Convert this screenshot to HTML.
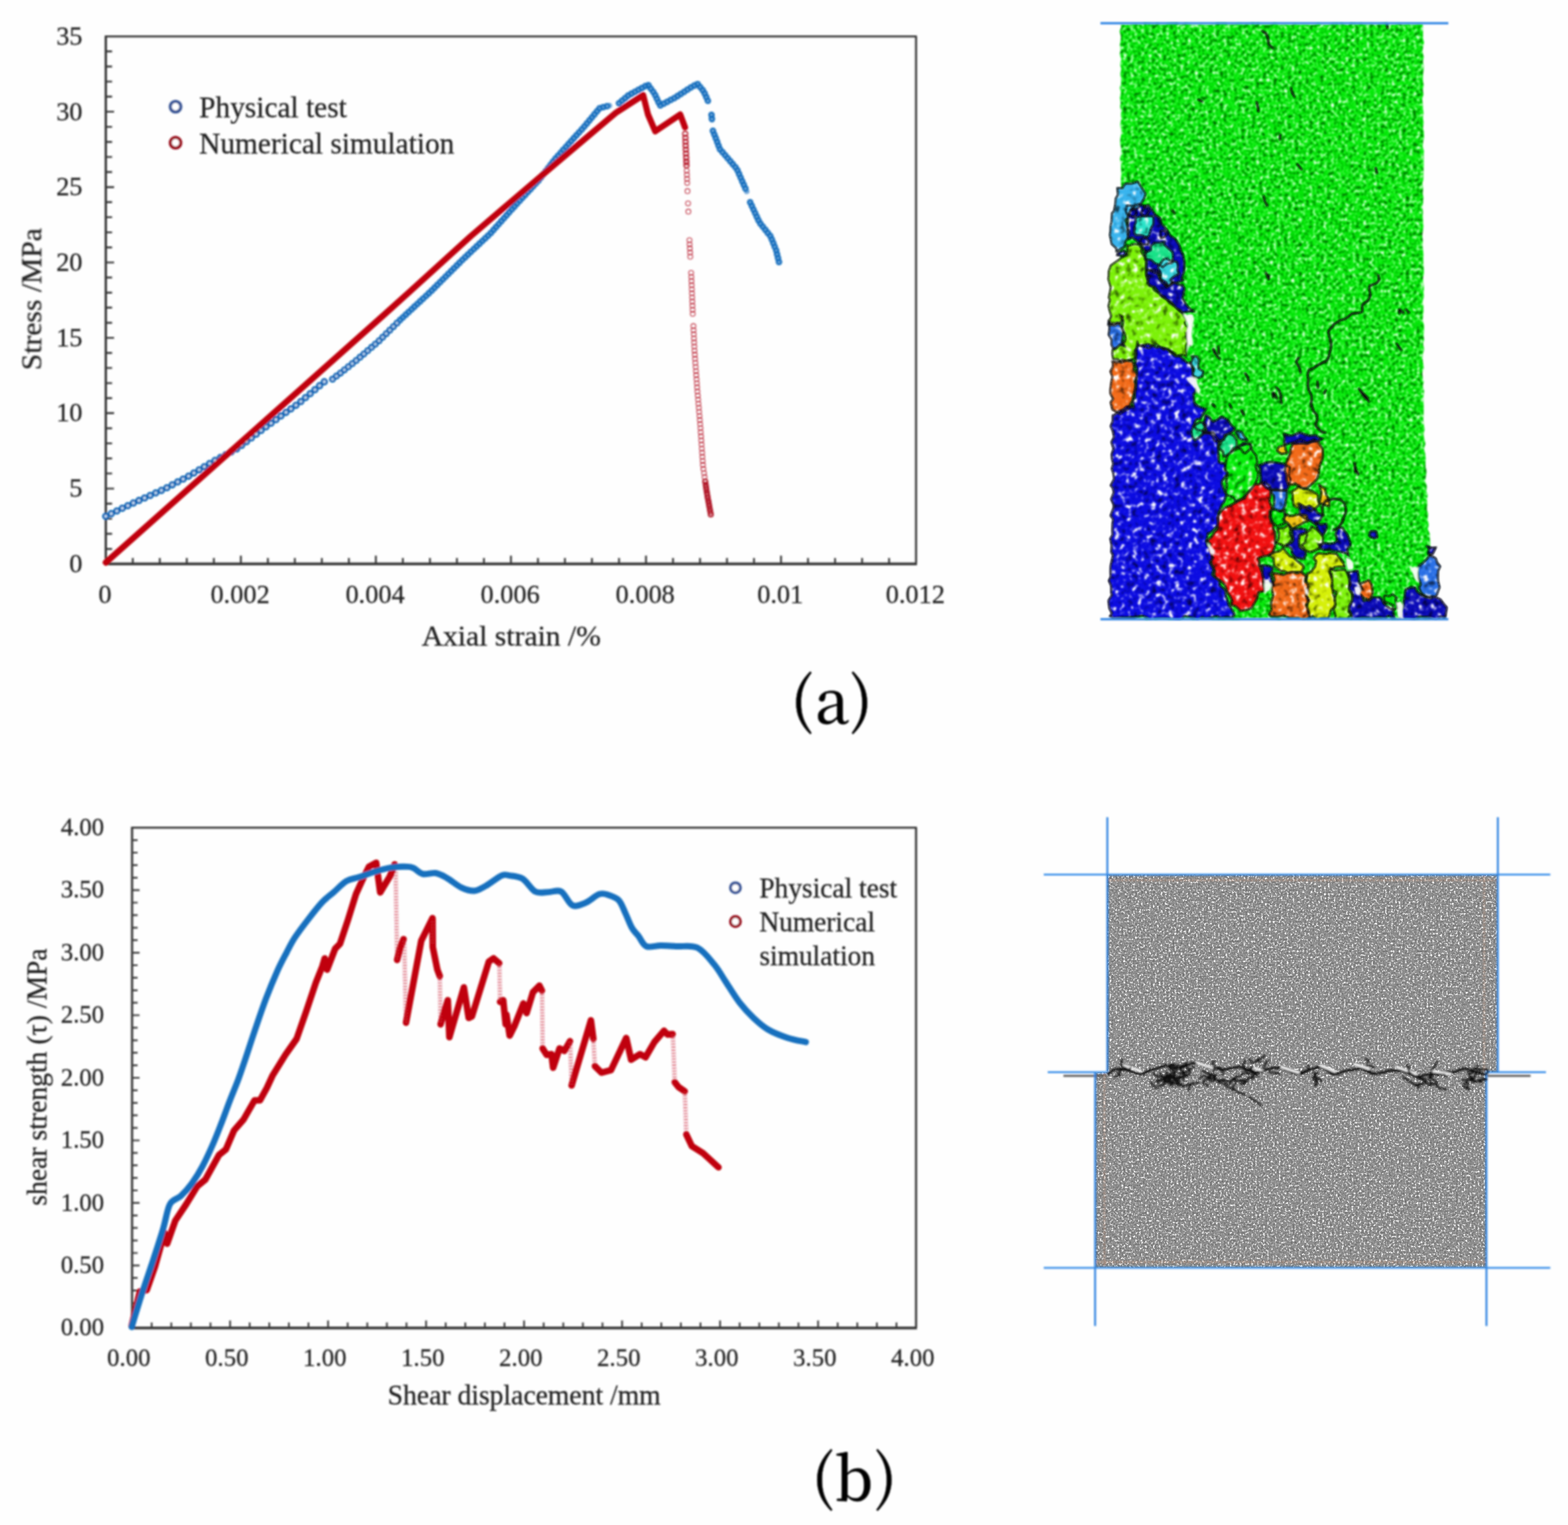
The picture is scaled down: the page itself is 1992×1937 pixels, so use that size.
<!DOCTYPE html>
<html lang="en"><head><meta charset="utf-8"><title>Figure</title>
<style>
html,body{margin:0;padding:0;background:#fefefe;}
body{width:1992px;height:1937px;overflow:hidden;font-family:"Liberation Serif","Noto Serif CJK SC",serif;}
svg{display:block;position:absolute;left:0;top:0;}
text{font-family:"Liberation Serif","Noto Serif CJK SC",serif;fill:#222222;stroke:#222222;stroke-width:0.3px;}
.cap{font-family:"Noto Serif CJK SC","Liberation Serif",serif;fill:#050505;stroke:#050505;stroke-width:0.4px;}
</style></head><body>
<svg width="1992" height="1937" viewBox="0 0 1992 1937">
<defs>
<filter id="soft" x="-2%" y="-2%" width="104%" height="104%"><feGaussianBlur stdDeviation="0.85"/></filter>
<filter id="tfine" x="-3%" y="-3%" width="106%" height="106%" color-interpolation-filters="sRGB"><feTurbulence type="fractalNoise" baseFrequency="0.22" numOctaves="3" seed="4" result="n"/><feColorMatrix in="n" type="matrix" values="1 0 0 0 0 1 0 0 0 0 1 0 0 0 0 1 0 0 0 0" result="m"/><feComponentTransfer in="m" result="o"><feFuncR type="discrete" tableValues="0 1"/><feFuncG type="discrete" tableValues="0 1"/><feFuncB type="discrete" tableValues="0 1"/><feFuncA type="table" tableValues=".7 .7 .65 .6 .5 .35 .2 .08 0 .08 .28 .5 .7 .9 1 1 1"/></feComponentTransfer><feComposite in="o" in2="SourceGraphic" operator="in" result="oc"/><feMerge result="mm"><feMergeNode in="SourceGraphic"/><feMergeNode in="oc"/></feMerge><feGaussianBlur in="mm" stdDeviation="0.9"/></filter>
<filter id="tcoarse" x="-3%" y="-3%" width="106%" height="106%" color-interpolation-filters="sRGB"><feTurbulence type="fractalNoise" baseFrequency="0.13" numOctaves="2" seed="9" result="n"/><feColorMatrix in="n" type="matrix" values="1 0 0 0 0 1 0 0 0 0 1 0 0 0 0 1 0 0 0 0" result="m"/><feComponentTransfer in="m" result="o"><feFuncR type="discrete" tableValues="0 1"/><feFuncG type="discrete" tableValues="0 1"/><feFuncB type="discrete" tableValues="0 1"/><feFuncA type="table" tableValues=".7 .7 .65 .6 .45 .3 .12 0 0 .04 .25 .6 .9 1 1 1 1"/></feComponentTransfer><feComposite in="o" in2="SourceGraphic" operator="in" result="oc"/><feMerge result="mm"><feMergeNode in="SourceGraphic"/><feMergeNode in="oc"/></feMerge><feGaussianBlur in="mm" stdDeviation="1.0"/></filter>
<filter id="tgray" x="-3%" y="-3%" width="106%" height="106%" color-interpolation-filters="sRGB"><feTurbulence type="fractalNoise" baseFrequency="0.4" numOctaves="2" seed="17" result="n"/><feColorMatrix in="n" type="matrix" values="1 0 0 0 0 1 0 0 0 0 1 0 0 0 0 1 0 0 0 0" result="m"/><feComponentTransfer in="m" result="o"><feFuncR type="discrete" tableValues="0 1"/><feFuncG type="discrete" tableValues="0 1"/><feFuncB type="discrete" tableValues="0 1"/><feFuncA type="table" tableValues=".25 .25 .25 .22 .18 .12 .06 0 0 .1 .3 .6 .9 1 1 1 1"/></feComponentTransfer><feComposite in="o" in2="SourceGraphic" operator="in" result="oc"/><feMerge result="mm"><feMergeNode in="SourceGraphic"/><feMergeNode in="oc"/></feMerge><feGaussianBlur in="mm" stdDeviation="0.75"/></filter>
<filter id="soft2" x="-3%" y="-3%" width="106%" height="106%"><feGaussianBlur stdDeviation="1.25"/></filter>
<filter id="soft3" x="-3%" y="-3%" width="106%" height="106%"><feGaussianBlur stdDeviation="1.0"/></filter>
</defs>
<rect x="0" y="0" width="1992" height="1937" fill="#fefefe"/>
<g filter="url(#soft)">
<path d="M133.1 46.2H1164.8" stroke="#383838" stroke-width="2.6" fill="none"/>
<path d="M1163.8 46.2V716.3" stroke="#383838" stroke-width="2.6" fill="none"/>
<path d="M134.4 46.2V716.3" stroke="#383838" stroke-width="3" fill="none"/>
<path d="M132.9 716.3H1164.9" stroke="#383838" stroke-width="3.6" fill="none"/>
<path d="M134.4 697.2h8M134.4 678h8M134.4 658.9h8M134.4 639.7h8M134.4 620.6h10.5M134.4 601.4h8M134.4 582.3h8M134.4 563.1h8M134.4 544h8M134.4 524.8h10.5M134.4 505.7h8M134.4 486.6h8M134.4 467.4h8M134.4 448.3h8M134.4 429.1h10.5M134.4 410h8M134.4 390.8h8M134.4 371.7h8M134.4 352.5h8M134.4 333.4h10.5M134.4 314.2h8M134.4 295.1h8M134.4 275.9h8M134.4 256.8h8M134.4 237.7h10.5M134.4 218.5h8M134.4 199.4h8M134.4 180.2h8M134.4 161.1h8M134.4 141.9h10.5M134.4 122.8h8M134.4 103.6h8M134.4 84.5h8M134.4 65.3h8" stroke="#383838" stroke-width="2.4" fill="none"/>
<path d="M168.7 716.3v-7.5M203 716.3v-7.5M237.3 716.3v-7.5M271.7 716.3v-7.5M306 716.3v-10.5M340.3 716.3v-7.5M374.6 716.3v-7.5M408.9 716.3v-7.5M443.2 716.3v-7.5M477.5 716.3v-10.5M511.8 716.3v-7.5M546.2 716.3v-7.5M580.5 716.3v-7.5M614.8 716.3v-7.5M649.1 716.3v-10.5M683.4 716.3v-7.5M717.7 716.3v-7.5M752 716.3v-7.5M786.4 716.3v-7.5M820.7 716.3v-10.5M855 716.3v-7.5M889.3 716.3v-7.5M923.6 716.3v-7.5M957.9 716.3v-7.5M992.2 716.3v-10.5M1026.5 716.3v-7.5M1060.9 716.3v-7.5M1095.2 716.3v-7.5M1129.5 716.3v-7.5" stroke="#383838" stroke-width="2.4" fill="none"/>
<text transform="translate(104.8 726.9) scale(0.995 1.000)" font-size="33.6" text-anchor="end">0</text>
<text transform="translate(104.8 631.2) scale(0.995 1.000)" font-size="33.6" text-anchor="end">5</text>
<text transform="translate(104.8 535.4) scale(0.995 1.000)" font-size="33.6" text-anchor="end">10</text>
<text transform="translate(104.8 439.7) scale(0.995 1.000)" font-size="33.6" text-anchor="end">15</text>
<text transform="translate(104.8 344) scale(0.995 1.000)" font-size="33.6" text-anchor="end">20</text>
<text transform="translate(104.8 248.3) scale(0.995 1.000)" font-size="33.6" text-anchor="end">25</text>
<text transform="translate(104.8 152.5) scale(0.995 1.000)" font-size="33.6" text-anchor="end">30</text>
<text transform="translate(104.8 56.8) scale(0.995 1.000)" font-size="33.6" text-anchor="end">35</text>
<text transform="translate(133.4 766.3) scale(0.995 1.000)" font-size="33.6" text-anchor="middle">0</text>
<text transform="translate(305 766.3) scale(0.995 1.000)" font-size="33.6" text-anchor="middle">0.002</text>
<text transform="translate(476.5 766.3) scale(0.995 1.000)" font-size="33.6" text-anchor="middle">0.004</text>
<text transform="translate(648.1 766.3) scale(0.995 1.000)" font-size="33.6" text-anchor="middle">0.006</text>
<text transform="translate(819.7 766.3) scale(0.995 1.000)" font-size="33.6" text-anchor="middle">0.008</text>
<text transform="translate(991.2 766.3) scale(0.995 1.000)" font-size="33.6" text-anchor="middle">0.01</text>
<text transform="translate(1162.8 766.3) scale(0.995 1.000)" font-size="33.6" text-anchor="middle">0.012</text>
<text transform="translate(649.5 820) scale(1.025 1.000)" font-size="36.7" text-anchor="middle">Axial strain /%</text>
<text transform="translate(52.3 380) rotate(-90) scale(1.020 1.000)" font-size="36.8" text-anchor="middle">Stress /MPa</text>
<circle cx="223" cy="135.5" r="6.7" fill="#fff" stroke="#3b5796" stroke-width="4"/>
<circle cx="223" cy="181.3" r="6.7" fill="#fff" stroke="#98101f" stroke-width="4"/>
<text transform="translate(253 148.9)" font-size="37.3" text-anchor="start">Physical test</text>
<text transform="translate(253 194.6)" font-size="37.3" text-anchor="start">Numerical simulation</text>
<g fill="#d3e5f6" stroke="#0f68b6" stroke-width="2.8" opacity="1"><circle cx="134.3" cy="655.8" r="3.2"/><circle cx="141.3" cy="652.4" r="3.2"/><circle cx="148.4" cy="649" r="3.2"/><circle cx="155.4" cy="645.6" r="3.2"/><circle cx="162.4" cy="642.3" r="3.2"/><circle cx="169.4" cy="638.9" r="3.2"/><circle cx="176.5" cy="635.7" r="3.2"/><circle cx="183.7" cy="632.5" r="3.2"/><circle cx="190.8" cy="629.3" r="3.2"/><circle cx="197.9" cy="626.1" r="3.2"/><circle cx="205" cy="622.9" r="3.2"/><circle cx="212" cy="619.5" r="3.2"/><circle cx="218.9" cy="615.8" r="3.2"/><circle cx="225.8" cy="612.1" r="3.2"/><circle cx="232.7" cy="608.5" r="3.2"/><circle cx="239.6" cy="604.8" r="3.2"/><circle cx="246.3" cy="600.8" r="3.2"/><circle cx="253" cy="596.8" r="3.2"/><circle cx="259.6" cy="592.8" r="3.2"/><circle cx="266.3" cy="588.8" r="3.2"/><circle cx="273.1" cy="584.9" r="3.2"/><circle cx="280" cy="581.2" r="3.2"/><circle cx="286.9" cy="577.6" r="3.2"/><circle cx="293.7" cy="573.9" r="3.2"/><circle cx="300.6" cy="570.2" r="3.2"/><circle cx="306.9" cy="565.7" r="3.2"/><circle cx="313.1" cy="560.9" r="3.2"/><circle cx="319.3" cy="556.2" r="3.2"/><circle cx="325.5" cy="551.4" r="3.2"/><circle cx="331.7" cy="546.7" r="3.2"/><circle cx="338" cy="542.1" r="3.2"/><circle cx="344.3" cy="537.5" r="3.2"/><circle cx="350.6" cy="532.9" r="3.2"/><circle cx="356.9" cy="528.3" r="3.2"/><circle cx="363.3" cy="523.8" r="3.2"/><circle cx="369.6" cy="519.3" r="3.2"/><circle cx="376" cy="514.8" r="3.2"/><circle cx="382.2" cy="510" r="3.2"/><circle cx="388.1" cy="505" r="3.2"/><circle cx="394.1" cy="500" r="3.2"/><circle cx="400.1" cy="495" r="3.2"/><circle cx="406" cy="489.9" r="3.2"/><circle cx="412" cy="484.9" r="3.2"/></g>
<g fill="#bcd7f0" stroke="#0f68b6" stroke-width="2.6" opacity="1"><circle cx="422.4" cy="481.7" r="3.1"/><circle cx="427.4" cy="477.7" r="3.1"/><circle cx="432.5" cy="473.8" r="3.1"/><circle cx="437.5" cy="469.8" r="3.1"/><circle cx="442.5" cy="465.9" r="3.1"/><circle cx="447.5" cy="461.9" r="3.1"/><circle cx="452.5" cy="457.9" r="3.1"/><circle cx="457.4" cy="453.7" r="3.1"/><circle cx="462.2" cy="449.6" r="3.1"/><circle cx="467.1" cy="445.4" r="3.1"/><circle cx="472" cy="441.2" r="3.1"/><circle cx="476.8" cy="437.1" r="3.1"/><circle cx="481.6" cy="432.8" r="3.1"/><circle cx="486.1" cy="428.3" r="3.1"/><circle cx="490.7" cy="423.8" r="3.1"/><circle cx="495.2" cy="419.3" r="3.1"/><circle cx="499.8" cy="414.8" r="3.1"/><circle cx="504.3" cy="410.3" r="3.1"/></g>
<polyline points="508.2,406.5 547.4,370.1 588.3,329.2 623,296.5 655.7,259.8 684.3,229.1 704.7,202.6 721.1,184.2 741.5,161.7 761.9,137.2 774.2,134.1" fill="none" stroke="#1c72c2" stroke-width="7" stroke-linejoin="round" stroke-linecap="round" opacity="0.62"/>
<g fill="none" stroke="#166fbe" stroke-width="2.3" opacity="1"><circle cx="508.2" cy="406.5" r="3"/><circle cx="511.9" cy="403.1" r="3"/><circle cx="515.5" cy="399.7" r="3"/><circle cx="519.2" cy="396.3" r="3"/><circle cx="522.9" cy="392.9" r="3"/><circle cx="526.5" cy="389.5" r="3"/><circle cx="530.2" cy="386.1" r="3"/><circle cx="533.8" cy="382.7" r="3"/><circle cx="537.5" cy="379.3" r="3"/><circle cx="541.2" cy="375.9" r="3"/><circle cx="544.8" cy="372.5" r="3"/><circle cx="548.5" cy="369" r="3"/><circle cx="552" cy="365.5" r="3"/><circle cx="555.5" cy="362" r="3"/><circle cx="559.1" cy="358.4" r="3"/><circle cx="562.6" cy="354.9" r="3"/><circle cx="566.1" cy="351.4" r="3"/><circle cx="569.7" cy="347.8" r="3"/><circle cx="573.2" cy="344.3" r="3"/><circle cx="576.7" cy="340.8" r="3"/><circle cx="580.3" cy="337.2" r="3"/><circle cx="583.8" cy="333.7" r="3"/><circle cx="587.4" cy="330.1" r="3"/><circle cx="591" cy="326.7" r="3"/><circle cx="594.6" cy="323.3" r="3"/><circle cx="598.2" cy="319.8" r="3"/><circle cx="601.9" cy="316.4" r="3"/><circle cx="605.5" cy="313" r="3"/><circle cx="609.2" cy="309.5" r="3"/><circle cx="612.8" cy="306.1" r="3"/><circle cx="616.4" cy="302.7" r="3"/><circle cx="620.1" cy="299.3" r="3"/><circle cx="623.7" cy="295.8" r="3"/><circle cx="627" cy="292" r="3"/><circle cx="630.3" cy="288.3" r="3"/><circle cx="633.6" cy="284.6" r="3"/><circle cx="637" cy="280.8" r="3"/><circle cx="640.3" cy="277.1" r="3"/><circle cx="643.6" cy="273.4" r="3"/><circle cx="646.9" cy="269.6" r="3"/><circle cx="650.3" cy="265.9" r="3"/><circle cx="653.6" cy="262.2" r="3"/><circle cx="656.9" cy="258.5" r="3"/><circle cx="660.4" cy="254.8" r="3"/><circle cx="663.8" cy="251.1" r="3"/><circle cx="667.2" cy="247.5" r="3"/><circle cx="670.6" cy="243.8" r="3"/><circle cx="674" cy="240.2" r="3"/><circle cx="677.4" cy="236.5" r="3"/><circle cx="680.8" cy="232.9" r="3"/><circle cx="684.2" cy="229.2" r="3"/><circle cx="687.3" cy="225.2" r="3"/><circle cx="690.3" cy="221.3" r="3"/><circle cx="693.4" cy="217.3" r="3"/><circle cx="696.4" cy="213.4" r="3"/><circle cx="699.5" cy="209.4" r="3"/><circle cx="702.5" cy="205.4" r="3"/><circle cx="705.7" cy="201.5" r="3"/><circle cx="709" cy="197.8" r="3"/><circle cx="712.3" cy="194.1" r="3"/><circle cx="715.6" cy="190.3" r="3"/><circle cx="719" cy="186.6" r="3"/><circle cx="722.3" cy="182.9" r="3"/><circle cx="725.7" cy="179.2" r="3"/><circle cx="729" cy="175.5" r="3"/><circle cx="732.4" cy="171.8" r="3"/><circle cx="735.7" cy="168.1" r="3"/><circle cx="739.1" cy="164.4" r="3"/><circle cx="742.4" cy="160.6" r="3"/><circle cx="745.6" cy="156.8" r="3"/><circle cx="748.8" cy="152.9" r="3"/><circle cx="752" cy="149.1" r="3"/><circle cx="755.2" cy="145.2" r="3"/><circle cx="758.4" cy="141.4" r="3"/><circle cx="761.6" cy="137.6" r="3"/><circle cx="766.3" cy="136.1" r="3"/><circle cx="771.1" cy="134.9" r="3"/></g>
<polyline points="786.4,131.1 798.7,120.9 823.2,107.6 831.4,118.8 838.5,134.1 857.9,123.9 878.4,110.6 886,106.5 894,116 899.6,128.7" fill="none" stroke="#1c72c2" stroke-width="7" stroke-linejoin="round" stroke-linecap="round" opacity="0.62"/>
<g fill="none" stroke="#166fbe" stroke-width="2.3" opacity="1"><circle cx="786.4" cy="131.1" r="3"/><circle cx="790.2" cy="127.9" r="3"/><circle cx="794.1" cy="124.7" r="3"/><circle cx="797.9" cy="121.5" r="3"/><circle cx="802.2" cy="119" r="3"/><circle cx="806.6" cy="116.6" r="3"/><circle cx="811" cy="114.2" r="3"/><circle cx="815.4" cy="111.8" r="3"/><circle cx="819.8" cy="109.4" r="3"/><circle cx="823.9" cy="108.5" r="3"/><circle cx="826.8" cy="112.6" r="3"/><circle cx="829.8" cy="116.6" r="3"/><circle cx="832.4" cy="120.9" r="3"/><circle cx="834.5" cy="125.4" r="3"/><circle cx="836.6" cy="129.9" r="3"/><circle cx="838.9" cy="133.9" r="3"/><circle cx="843.3" cy="131.6" r="3"/><circle cx="847.7" cy="129.3" r="3"/><circle cx="852.1" cy="126.9" r="3"/><circle cx="856.6" cy="124.6" r="3"/><circle cx="860.8" cy="122" r="3"/><circle cx="865" cy="119.3" r="3"/><circle cx="869.2" cy="116.6" r="3"/><circle cx="873.4" cy="113.8" r="3"/><circle cx="877.6" cy="111.1" r="3"/><circle cx="882" cy="108.7" r="3"/><circle cx="886.3" cy="106.8" r="3"/><circle cx="889.5" cy="110.6" r="3"/><circle cx="892.7" cy="114.5" r="3"/><circle cx="895.2" cy="118.7" r="3"/><circle cx="897.2" cy="123.3" r="3"/><circle cx="899.2" cy="127.9" r="3"/></g>
<polyline points="903.9,146 904.5,152" fill="none" stroke="#1c72c2" stroke-width="7" stroke-linejoin="round" stroke-linecap="round" opacity="0.62"/>
<g fill="none" stroke="#166fbe" stroke-width="2.3" opacity="1"><circle cx="903.9" cy="146" r="3"/><circle cx="904.4" cy="151" r="3"/></g>
<polyline points="905.7,166.2 914.6,189.5 936.1,214.5 948.6,243.1" fill="none" stroke="#1c72c2" stroke-width="7" stroke-linejoin="round" stroke-linecap="round" opacity="0.62"/>
<g fill="none" stroke="#166fbe" stroke-width="2.3" opacity="1"><circle cx="905.7" cy="166.2" r="3"/><circle cx="907.5" cy="170.9" r="3"/><circle cx="909.3" cy="175.5" r="3"/><circle cx="911.1" cy="180.2" r="3"/><circle cx="912.8" cy="184.9" r="3"/><circle cx="914.6" cy="189.5" r="3"/><circle cx="917.9" cy="193.3" r="3"/><circle cx="921.2" cy="197.1" r="3"/><circle cx="924.4" cy="200.9" r="3"/><circle cx="927.7" cy="204.7" r="3"/><circle cx="930.9" cy="208.5" r="3"/><circle cx="934.2" cy="212.3" r="3"/><circle cx="936.9" cy="216.4" r="3"/><circle cx="938.9" cy="221" r="3"/><circle cx="940.9" cy="225.6" r="3"/><circle cx="942.9" cy="230.2" r="3"/><circle cx="944.9" cy="234.7" r="3"/><circle cx="946.9" cy="239.3" r="3"/></g>
<polyline points="953,257 964.7,282.4 979,300.3 986.1,318.2 989.7,333.2" fill="none" stroke="#1c72c2" stroke-width="7" stroke-linejoin="round" stroke-linecap="round" opacity="0.62"/>
<g fill="none" stroke="#166fbe" stroke-width="2.3" opacity="1"><circle cx="953" cy="257" r="3"/><circle cx="955.1" cy="261.5" r="3"/><circle cx="957.2" cy="266.1" r="3"/><circle cx="959.3" cy="270.6" r="3"/><circle cx="961.4" cy="275.2" r="3"/><circle cx="963.5" cy="279.7" r="3"/><circle cx="966" cy="284" r="3"/><circle cx="969.1" cy="287.9" r="3"/><circle cx="972.2" cy="291.8" r="3"/><circle cx="975.3" cy="295.7" r="3"/><circle cx="978.5" cy="299.6" r="3"/><circle cx="980.5" cy="304.1" r="3"/><circle cx="982.4" cy="308.8" r="3"/><circle cx="984.2" cy="313.4" r="3"/><circle cx="986.1" cy="318.1" r="3"/><circle cx="987.2" cy="322.9" r="3"/><circle cx="988.4" cy="327.8" r="3"/><circle cx="989.6" cy="332.7" r="3"/></g>
<polyline points="134.4,714.5 487.7,400 520.9,370.1 598.5,299.6 655.7,250.6 717,198.5 782.4,143.3 817.1,120.9 823.2,145.4 832.4,166.8 864.1,145.4 870.2,161.7" fill="none" stroke="#c0000a" stroke-width="7.8" stroke-linejoin="round" stroke-linecap="round" opacity="1"/>
<g fill="none" stroke="#b82030" stroke-width="1.6" opacity="1"><circle cx="870.5" cy="170" r="3.2"/><circle cx="870.7" cy="175" r="3.2"/><circle cx="870.9" cy="180" r="3.2"/><circle cx="871.1" cy="185" r="3.2"/><circle cx="871.3" cy="190" r="3.2"/><circle cx="871.5" cy="195" r="3.2"/><circle cx="871.7" cy="200" r="3.2"/><circle cx="871.9" cy="205" r="3.2"/><circle cx="872.1" cy="210" r="3.2"/></g>
<g fill="none" stroke="#c03545" stroke-width="1.1"><circle cx="870.5" cy="170" r="3.1"/><circle cx="870.7" cy="175.2" r="3.1"/><circle cx="870.9" cy="180.4" r="3.1"/><circle cx="871.1" cy="185.6" r="3.1"/><circle cx="871.7" cy="201.2" r="3.1"/><circle cx="872" cy="206.4" r="3.1"/><circle cx="872.4" cy="216.8" r="3.1"/><circle cx="872.6" cy="222" r="3.1"/><circle cx="872.8" cy="227.2" r="3.1"/><circle cx="873" cy="232.3" r="3.1"/><circle cx="873.4" cy="242.7" r="3.1"/><circle cx="874.1" cy="258.3" r="3.1"/><circle cx="874.5" cy="268.7" r="3.1"/><circle cx="875.9" cy="305.1" r="3.1"/><circle cx="876.1" cy="310.3" r="3.1"/><circle cx="876.4" cy="315.5" r="3.1"/><circle cx="876.7" cy="320.7" r="3.1"/><circle cx="876.9" cy="325.9" r="3.1"/><circle cx="878" cy="346.6" r="3.1"/><circle cx="878.3" cy="351.8" r="3.1"/><circle cx="878.5" cy="357" r="3.1"/><circle cx="878.7" cy="362.2" r="3.1"/><circle cx="878.9" cy="367.4" r="3.1"/><circle cx="879.1" cy="372.6" r="3.1"/><circle cx="879.3" cy="377.8" r="3.1"/><circle cx="879.5" cy="383" r="3.1"/><circle cx="879.7" cy="388.2" r="3.1"/><circle cx="879.9" cy="393.4" r="3.1"/><circle cx="880.1" cy="398.6" r="3.1"/><circle cx="880.9" cy="414.2" r="3.1"/><circle cx="881.1" cy="419.4" r="3.1"/><circle cx="881.4" cy="424.6" r="3.1"/><circle cx="881.6" cy="429.8" r="3.1"/><circle cx="881.8" cy="435" r="3.1"/><circle cx="882.1" cy="440.1" r="3.1"/><circle cx="882.3" cy="445.3" r="3.1"/><circle cx="882.7" cy="450.5" r="3.1"/><circle cx="883" cy="455.7" r="3.1"/><circle cx="883.4" cy="460.9" r="3.1"/><circle cx="883.8" cy="466.1" r="3.1"/><circle cx="884.2" cy="471.3" r="3.1"/><circle cx="884.5" cy="476.5" r="3.1"/><circle cx="884.9" cy="481.7" r="3.1"/><circle cx="885.3" cy="486.8" r="3.1"/><circle cx="885.6" cy="492" r="3.1"/><circle cx="886" cy="497.2" r="3.1"/><circle cx="886.5" cy="502.4" r="3.1"/><circle cx="886.9" cy="507.6" r="3.1"/><circle cx="887.3" cy="512.8" r="3.1"/><circle cx="887.8" cy="517.9" r="3.1"/><circle cx="888.2" cy="523.1" r="3.1"/><circle cx="888.7" cy="528.3" r="3.1"/><circle cx="889.1" cy="533.5" r="3.1"/><circle cx="889.5" cy="538.7" r="3.1"/><circle cx="889.9" cy="543.8" r="3.1"/><circle cx="890.2" cy="549" r="3.1"/><circle cx="890.6" cy="554.2" r="3.1"/><circle cx="890.9" cy="559.4" r="3.1"/><circle cx="891.3" cy="564.6" r="3.1"/><circle cx="891.6" cy="569.8" r="3.1"/><circle cx="892" cy="575" r="3.1"/><circle cx="892.3" cy="580.2" r="3.1"/><circle cx="892.7" cy="585.4" r="3.1"/><circle cx="893" cy="590.5" r="3.1"/><circle cx="893.6" cy="595.7" r="3.1"/><circle cx="894.4" cy="600.9" r="3.1"/><circle cx="895.1" cy="606" r="3.1"/><circle cx="895.9" cy="611.1" r="3.1"/><circle cx="896.6" cy="616.3" r="3.1"/><circle cx="897.4" cy="621.4" r="3.1"/><circle cx="898.2" cy="626.6" r="3.1"/><circle cx="899" cy="631.7" r="3.1"/><circle cx="900" cy="636.8" r="3.1"/><circle cx="900.9" cy="641.9" r="3.1"/><circle cx="901.8" cy="647" r="3.1"/><circle cx="902.8" cy="652.2" r="3.1"/></g>
<g fill="none" stroke="#b01828" stroke-width="1.6" opacity="1"><circle cx="896" cy="612" r="3"/><circle cx="896.5" cy="615.5" r="3"/><circle cx="897" cy="618.9" r="3"/><circle cx="897.5" cy="622.4" r="3"/><circle cx="898.1" cy="625.8" r="3"/><circle cx="898.6" cy="629.3" r="3"/><circle cx="899.2" cy="632.7" r="3"/><circle cx="899.9" cy="636.2" r="3"/><circle cx="900.5" cy="639.6" r="3"/><circle cx="901.1" cy="643.1" r="3"/><circle cx="901.7" cy="646.5" r="3"/><circle cx="902.4" cy="650" r="3"/><circle cx="903" cy="653.4" r="3"/></g>
</g>
<g filter="url(#soft)">
<path d="M166.5 1051.2H1164.8" stroke="#383838" stroke-width="2.4" fill="none"/>
<path d="M1163.8 1051.2V1686.8" stroke="#383838" stroke-width="2.7" fill="none"/>
<path d="M167.8 1051.2V1686.8" stroke="#383838" stroke-width="2.8" fill="none"/>
<path d="M166.4 1686.8H1164.9" stroke="#383838" stroke-width="3.4" fill="none"/>
<path d="M167.8 1670.9h7M167.8 1655h7M167.8 1639.1h7M167.8 1623.2h7M167.8 1607.3h9.5M167.8 1591.5h7M167.8 1575.6h7M167.8 1559.7h7M167.8 1543.8h7M167.8 1527.9h9.5M167.8 1512h7M167.8 1496.1h7M167.8 1480.2h7M167.8 1464.3h7M167.8 1448.5h9.5M167.8 1432.6h7M167.8 1416.7h7M167.8 1400.8h7M167.8 1384.9h7M167.8 1369h9.5M167.8 1353.1h7M167.8 1337.2h7M167.8 1321.3h7M167.8 1305.4h7M167.8 1289.5h9.5M167.8 1273.7h7M167.8 1257.8h7M167.8 1241.9h7M167.8 1226h7M167.8 1210.1h9.5M167.8 1194.2h7M167.8 1178.3h7M167.8 1162.4h7M167.8 1146.5h7M167.8 1130.7h9.5M167.8 1114.8h7M167.8 1098.9h7M167.8 1083h7M167.8 1067.1h7" stroke="#383838" stroke-width="2.2" fill="none"/>
<path d="M192.7 1686.8v-7M217.6 1686.8v-7M242.5 1686.8v-7M267.4 1686.8v-7M292.3 1686.8v-9.5M317.2 1686.8v-7M342.1 1686.8v-7M367 1686.8v-7M391.9 1686.8v-7M416.8 1686.8v-9.5M441.7 1686.8v-7M466.6 1686.8v-7M491.5 1686.8v-7M516.4 1686.8v-7M541.3 1686.8v-9.5M566.2 1686.8v-7M591.1 1686.8v-7M616 1686.8v-7M640.9 1686.8v-7M665.8 1686.8v-9.5M690.7 1686.8v-7M715.6 1686.8v-7M740.5 1686.8v-7M765.4 1686.8v-7M790.3 1686.8v-9.5M815.2 1686.8v-7M840.1 1686.8v-7M865 1686.8v-7M889.9 1686.8v-7M914.8 1686.8v-9.5M939.7 1686.8v-7M964.6 1686.8v-7M989.5 1686.8v-7M1014.4 1686.8v-7M1039.3 1686.8v-9.5M1064.2 1686.8v-7M1089.1 1686.8v-7M1114 1686.8v-7M1138.9 1686.8v-7" stroke="#383838" stroke-width="2.2" fill="none"/>
<text transform="translate(132.3 1696.4) scale(0.970 1.000)" font-size="32.5" text-anchor="end">0.00</text>
<text transform="translate(163.6 1735) scale(0.970 1.000)" font-size="32.5" text-anchor="middle">0.00</text>
<text transform="translate(132.3 1616.9) scale(0.970 1.000)" font-size="32.5" text-anchor="end">0.50</text>
<text transform="translate(288.1 1735) scale(0.970 1.000)" font-size="32.5" text-anchor="middle">0.50</text>
<text transform="translate(132.3 1537.5) scale(0.970 1.000)" font-size="32.5" text-anchor="end">1.00</text>
<text transform="translate(412.6 1735) scale(0.970 1.000)" font-size="32.5" text-anchor="middle">1.00</text>
<text transform="translate(132.3 1458) scale(0.970 1.000)" font-size="32.5" text-anchor="end">1.50</text>
<text transform="translate(537.1 1735) scale(0.970 1.000)" font-size="32.5" text-anchor="middle">1.50</text>
<text transform="translate(132.3 1378.6) scale(0.970 1.000)" font-size="32.5" text-anchor="end">2.00</text>
<text transform="translate(661.6 1735) scale(0.970 1.000)" font-size="32.5" text-anchor="middle">2.00</text>
<text transform="translate(132.3 1299.1) scale(0.970 1.000)" font-size="32.5" text-anchor="end">2.50</text>
<text transform="translate(786.1 1735) scale(0.970 1.000)" font-size="32.5" text-anchor="middle">2.50</text>
<text transform="translate(132.3 1219.7) scale(0.970 1.000)" font-size="32.5" text-anchor="end">3.00</text>
<text transform="translate(910.6 1735) scale(0.970 1.000)" font-size="32.5" text-anchor="middle">3.00</text>
<text transform="translate(132.3 1140.2) scale(0.970 1.000)" font-size="32.5" text-anchor="end">3.50</text>
<text transform="translate(1035.1 1735) scale(0.970 1.000)" font-size="32.5" text-anchor="middle">3.50</text>
<text transform="translate(132.3 1060.8) scale(0.970 1.000)" font-size="32.5" text-anchor="end">4.00</text>
<text transform="translate(1159.6 1735) scale(0.970 1.000)" font-size="32.5" text-anchor="middle">4.00</text>
<text transform="translate(665.9 1784.3)" font-size="35.1" text-anchor="middle">Shear displacement /mm</text>
<text transform="translate(59 1368) rotate(-90)" font-size="35.1" text-anchor="middle">shear strength (τ) /MPa</text>
<circle cx="934.3" cy="1127.6" r="6.3" fill="#fff" stroke="#3b5796" stroke-width="3.7"/>
<circle cx="934.3" cy="1170.5" r="6.3" fill="#fff" stroke="#98101f" stroke-width="3.7"/>
<text transform="translate(964.7 1140.2)" font-size="34.8" text-anchor="start">Physical test</text>
<text transform="translate(964.7 1183.4)" font-size="34.8" text-anchor="start">Numerical</text>
<text transform="translate(964.7 1226)" font-size="34.8" text-anchor="start">simulation</text>
<polyline points="167.3,1684 177.7,1640.4 186.4,1638.6 196.8,1609.2 208.9,1565.8 212.4,1579.7 222.8,1550.2 236.7,1529.4 250.5,1506.9 260.9,1498.2 278.2,1467.1 286.9,1460.1 297.3,1435.9 309.4,1422 323.3,1397.7 330.2,1397.7 338.9,1382.1 346.1,1366.4 362.5,1339.9 376.8,1319.5 389,1284.7 401.3,1248 409.5,1227.5 412.5,1217.3 415.6,1231.6 425.8,1205 431.9,1198.9 442.1,1168.3 452.3,1135.6 462.6,1113.1 468.7,1100.9 477.9,1095.8 483,1133.5 495.3,1113.1 501.4,1097.8" fill="none" stroke="#c0000a" stroke-width="8.3" stroke-linejoin="round" stroke-linecap="round" opacity="1"/>
<polyline points="504.5,1219.3 508,1205 512.7,1192.8" fill="none" stroke="#c0000a" stroke-width="8.3" stroke-linejoin="round" stroke-linecap="round" opacity="1"/>
<polyline points="515.8,1299 535.2,1194.8 549.5,1166.2 549.8,1203 555.6,1231.6 558.7,1239.8" fill="none" stroke="#c0000a" stroke-width="8.3" stroke-linejoin="round" stroke-linecap="round" opacity="1"/>
<polyline points="559.7,1301 568.9,1270.4 570.9,1317.4 589.3,1254.1 595.4,1292.9 599.5,1290.9 621,1221.4 627.1,1217.3 634.2,1223.4" fill="none" stroke="#c0000a" stroke-width="8.3" stroke-linejoin="round" stroke-linecap="round" opacity="1"/>
<polyline points="635.3,1272.5 639.3,1270.4 642.4,1301.1 643.4,1288.8 647.5,1315.4 653.6,1303.1 664.9,1274.5 669,1286.8 677.1,1260.2 685.3,1252 688.4,1258.2" fill="none" stroke="#c0000a" stroke-width="8.3" stroke-linejoin="round" stroke-linecap="round" opacity="1"/>
<polyline points="689.4,1331.7 694.5,1339.9 700.6,1338.9 702.7,1356.2 710.8,1331.7 717,1334.8 724.1,1322.5" fill="none" stroke="#c0000a" stroke-width="8.3" stroke-linejoin="round" stroke-linecap="round" opacity="1"/>
<polyline points="726.2,1378.7 750.7,1296 753.8,1319.5" fill="none" stroke="#c0000a" stroke-width="8.3" stroke-linejoin="round" stroke-linecap="round" opacity="1"/>
<polyline points="755.8,1354.2 764,1362.4 776.2,1359.3 795.6,1318.4 801.8,1346 813,1338.9 820.1,1342.9 831.4,1323.5 843.6,1309.2 848,1314 854.5,1313.5" fill="none" stroke="#c0000a" stroke-width="8.3" stroke-linejoin="round" stroke-linecap="round" opacity="1"/>
<polyline points="857.2,1374.6 862,1380.7 869.9,1386.1" fill="none" stroke="#c0000a" stroke-width="8.3" stroke-linejoin="round" stroke-linecap="round" opacity="1"/>
<polyline points="871.9,1441 878.9,1455.8 893.2,1464.8 912.8,1482.7" fill="none" stroke="#c0000a" stroke-width="8.3" stroke-linejoin="round" stroke-linecap="round" opacity="1"/>
<line x1="502.5" y1="1100" x2="504.5" y2="1219" stroke="#cc2038" stroke-width="5.5" stroke-dasharray="1.8 2" opacity="0.6"/>
<line x1="513.5" y1="1195" x2="515.8" y2="1299" stroke="#cc2038" stroke-width="5.5" stroke-dasharray="1.8 2" opacity="0.6"/>
<line x1="558.7" y1="1240" x2="559.7" y2="1301" stroke="#cc2038" stroke-width="5.5" stroke-dasharray="1.8 2" opacity="0.6"/>
<line x1="634.4" y1="1224" x2="635.3" y2="1272" stroke="#cc2038" stroke-width="5.5" stroke-dasharray="1.8 2" opacity="0.6"/>
<line x1="688.6" y1="1259" x2="689.4" y2="1331" stroke="#cc2038" stroke-width="5.5" stroke-dasharray="1.8 2" opacity="0.6"/>
<line x1="724.3" y1="1323" x2="726.2" y2="1378" stroke="#cc2038" stroke-width="5.5" stroke-dasharray="1.8 2" opacity="0.6"/>
<line x1="753.8" y1="1320" x2="755.8" y2="1354" stroke="#cc2038" stroke-width="5.5" stroke-dasharray="1.8 2" opacity="0.6"/>
<line x1="854.8" y1="1314" x2="857.2" y2="1374" stroke="#cc2038" stroke-width="5.5" stroke-dasharray="1.8 2" opacity="0.6"/>
<line x1="870" y1="1387" x2="871.9" y2="1441" stroke="#cc2038" stroke-width="5.5" stroke-dasharray="1.8 2" opacity="0.6"/>
<line x1="549.6" y1="1170" x2="549.8" y2="1200" stroke="#cc2038" stroke-width="5.5" stroke-dasharray="1.8 2" opacity="0.6"/>
<path d="M167.3 1685.4C169.6 1677.9 176.6 1654.6 181.2 1640.4C185.8 1626.2 190.2 1613.8 194.6 1600.5C198.9 1587.2 203.8 1572.4 207.3 1560.6C210.9 1548.8 212.2 1536.4 215.9 1529.5C219.6 1522.6 225.1 1523.4 229.7 1519.1C234.3 1514.8 239 1509.8 243.6 1503.4C248.2 1497 252.9 1489.6 257.5 1480.9C262.1 1472.2 267.3 1460.7 271.3 1451.5C275.3 1442.3 278.2 1434.5 281.7 1425.5C285.2 1416.5 288.6 1406.7 292.1 1397.7C295.6 1388.7 299.3 1380.3 302.5 1371.7C305.7 1363.1 307.9 1356.4 311.4 1346C314.9 1335.6 319.2 1322.1 323.6 1309.2C328 1296.3 333.1 1281 337.9 1268.4C342.7 1255.8 347.8 1243.5 352.2 1233.6C356.6 1223.7 360.8 1216.2 364.5 1209.1C368.2 1201.9 370.3 1197.5 374.7 1190.7C379.1 1183.9 385.3 1175.8 391.1 1168.3C396.9 1160.8 404.1 1151.6 409.5 1145.8C414.9 1140 418.6 1137.9 423.7 1133.5C428.8 1129.1 434.7 1122.4 440.1 1119.2C445.6 1116 450.3 1116.1 456.4 1114.1C462.5 1112.1 470.1 1109 476.9 1107C483.7 1105 490.5 1102.9 497.3 1101.9C504.1 1100.9 512.9 1100.7 517.7 1100.9C522.5 1101.1 522.6 1101.4 525.9 1102.9C529.1 1104.4 532.6 1109.1 537.2 1110.1C541.8 1111.1 548.4 1108.2 553.5 1109C558.6 1109.8 562.3 1112.1 567.8 1115.2C573.2 1118.3 580.4 1124.7 586.2 1127.4C592 1130.1 597.5 1131.8 602.6 1131.5C607.7 1131.2 611.1 1128.6 616.9 1125.4C622.7 1122.2 632.2 1114.3 637.3 1112.1C642.4 1109.9 643.1 1111.4 647.5 1112.1C651.9 1112.8 658.4 1112.8 663.9 1116.2C669.4 1119.6 674.8 1129.7 680.2 1132.5C685.6 1135.3 691 1133.1 696.5 1133.1C702 1133.1 707.8 1129.7 712.9 1132.5C718 1135.3 722.1 1147.5 727.2 1149.9C732.3 1152.3 737.7 1149.2 743.5 1146.8C749.3 1144.4 756.8 1137.2 761.9 1135.6C767 1134 770.1 1135.8 774.2 1137.2C778.3 1138.6 783 1140 786.4 1143.8C789.8 1147.6 791.9 1154.3 794.6 1160.1C797.3 1165.9 800.1 1173.7 802.8 1178.5C805.5 1183.3 807.9 1184.8 811 1188.7C814.1 1192.6 816.5 1200 821.2 1202C826 1204 833 1201 839.5 1201C846 1201 852.2 1201.5 860 1202C867.8 1202.5 878.1 1199.9 886 1203.8C893.9 1207.7 901.5 1218 907.5 1225.2C913.5 1232.4 916.4 1238.7 921.8 1246.7C927.1 1254.8 933.6 1265.8 939.6 1273.5C945.6 1281.2 951.5 1287.5 957.5 1293.2C963.5 1298.9 968.2 1303.3 975.4 1307.5C982.5 1311.7 992.3 1315.5 1000.4 1318.2C1008.5 1320.9 1019.8 1322.7 1023.7 1323.6" fill="none" stroke="#166fbe" stroke-width="7.9" stroke-linejoin="round" stroke-linecap="round"/>
</g>
<g filter="url(#soft)">
<text class="cap" font-size="77" font-weight="500" x="1004.4 1035.5 1079.8" y="916.4 919.4 916.4">(a)</text>
<text class="cap" font-size="76" font-weight="500" x="1031.2 1059.9 1111.1" y="1903.4 1906.4 1903.4">(b)</text>
</g>
<g filter="url(#tfine)">
<path d="M1423.8 30.6L1430.2 31.1L1436.1 31L1440.4 29.9L1448.6 30.4L1454.5 29.1L1459.4 29.4L1465.6 30.2L1470.3 29.3L1477 31L1484.1 29.2L1490.2 29.1L1495.8 29.1L1500.3 30.9L1506.8 29.3L1514.7 30.9L1519 31.1L1525.6 30.4L1530.8 31.1L1538 31.1L1544.4 29.5L1549.2 29.2L1554.6 29L1561 30.2L1566.3 30.4L1573.1 29.5L1580.3 30L1585.1 30L1592 28.9L1598.6 28.9L1604.1 30.8L1608.3 30.7L1615.2 30.2L1620.3 28.9L1626.7 31.1L1632.8 30.6L1640.5 31.1L1645.1 29.7L1651.6 30.7L1656.6 30.6L1664.2 30.9L1668.4 31.1L1674.5 29.6L1681.8 31L1687.1 31L1693.6 29.5L1699.1 29.2L1704.5 29.2L1712 31.2L1716.7 28.9L1724.7 30.1L1729.3 29.4L1735.7 30.8L1741.4 29.8L1746.4 31L1752.4 30L1760.3 29.1L1766.1 31.1L1771.8 30.7L1776.6 29.8L1782.7 30.8L1789 29.9L1796.7 30.8L1802.6 29.9L1807.5 30.6L1807.9 35L1807.8 40.7L1807.7 48.7L1809.1 53.8L1808 59.1L1807 65L1808.7 72.4L1807.7 78.2L1808.7 84L1808.4 90.1L1807.7 96L1807.5 101.5L1808.6 108L1807.5 114.6L1808.4 119.7L1806.8 125.6L1807.4 131.9L1807.9 138.3L1808.4 144.2L1807.6 149.8L1808.6 156.3L1807.6 162.3L1808.9 168L1809.1 174.6L1808 179.6L1807.2 186.3L1809 191.4L1808.5 198L1808.6 202.7L1808.7 209.7L1808.4 215.3L1808.3 222.2L1808.3 228L1806.9 232.7L1807.9 239.9L1807.3 245.9L1808.3 250.4L1807.9 256.8L1806.9 262.6L1807.6 268.7L1807.3 274.4L1807.9 281.2L1808.3 287.7L1807.4 294.5L1806.8 299.3L1807.5 305.3L1807.1 312.3L1807.7 316.4L1808.3 322.5L1808.1 329.1L1808.2 336.6L1808.8 341.3L1808.8 347.8L1807.7 352.6L1808.2 359.7L1809.1 366.6L1808.3 371.1L1808.9 376.3L1807.1 383.7L1808.3 388.6L1808.3 396.4L1807.7 401.3L1807.3 407L1809.1 413.2L1809.1 420.5L1808.2 424.9L1809.2 431.5L1807.8 437.1L1809.2 443.5L1807.5 449.4L1807.1 455.8L1807.9 461L1808.7 468.3L1806.8 473.6L1807.5 480.5L1808.7 484.9L1807.4 490.7L1809.2 497L1808.3 503.4L1808.3 509.7L1808.6 514.6L1808.7 521L1808.4 527.1L1808.1 533.6L1808.8 539.1L1809.7 545.7L1808.3 550.9L1809.5 558.5L1810.8 563.6L1809 570.1L1810.3 575.6L1811.2 581.8L1810.9 588.4L1810.9 593.2L1812.3 598.7L1811.2 606.2L1810.9 612.2L1812.7 617.2L1811.9 624.1L1813.7 628.5L1812.9 635.5L1813.2 641L1812.6 647.6L1814.5 652.3L1813.5 660.1L1815.2 665.7L1813.8 671.9L1816.5 678.5L1816.2 682.2L1816.9 688.6L1816.8 696.4L1817 700.4L1816 708.3L1815.7 713.5L1816.3 718.5L1816.8 724.2L1815.6 731L1815.5 736.2L1816.7 743.9L1817.4 748.4L1816.3 754.8L1816.7 761.3L1817.6 767L1815.4 773.8L1815.7 779.6L1816.5 786.3L1811.3 786.3L1804.6 786.1L1798.6 786.6L1793.3 785.1L1786.6 785.7L1781.8 785.2L1775.7 786.4L1768.2 786.4L1762.2 785.1L1757.4 785.4L1752.1 786L1744.8 786.7L1738.1 786.5L1732.1 785.2L1728.3 786.4L1720.6 785.1L1716.4 786.4L1710 785.1L1703.5 785.7L1696.6 785.6L1691.5 785.6L1684.9 785.1L1680 786.4L1673.9 785.8L1668.1 786L1661.4 786.2L1655.8 785.7L1648.2 784.9L1642.5 784.9L1638.2 786L1631.8 784.8L1625.1 786.9L1619.5 785.8L1613.1 785L1606.4 785.2L1600.9 785.7L1596.1 785.2L1588.6 785.5L1582.4 785.5L1576.6 786L1570.1 787L1564.9 787.1L1559.7 786.4L1553.1 787.1L1546.3 786.4L1540.7 786.4L1535.8 785.2L1528.5 784.9L1522.6 785L1517 787.1L1510.9 785.5L1505.1 785.5L1499.8 786.5L1492.4 785.4L1487.6 787.1L1481.6 785.8L1476.4 784.8L1468.2 786.7L1463 784.9L1457.3 787.2L1451.3 785.6L1444.2 785L1440.2 786L1434.3 784.9L1426.6 784.9L1423.3 782.7L1422.9 777.5L1423 770.6L1422.4 766.8L1422.7 759.7L1423.3 753.8L1422.5 747.3L1422.6 741.8L1424.5 736L1424.4 729L1422.3 723.8L1423.5 717.9L1423.2 712L1424 706.7L1423 699.6L1424.3 693.1L1422.6 687.3L1422.5 682.4L1424.3 675.3L1422.6 668.7L1422.9 662.7L1423.3 657.9L1422.9 650.7L1424 644.6L1422.8 639.2L1423.2 632.8L1423.3 627.3L1424.1 621.9L1424.5 616.1L1424.1 609.9L1423.4 604.5L1423.9 598.8L1424 592.2L1422.9 586.5L1423.2 578.8L1422.5 572.9L1422.9 568.1L1423 560.7L1424.1 555.9L1422.4 548.6L1422.6 543.4L1424.4 538.8L1423.8 531.1L1423.3 525.4L1423.1 518.5L1423.7 514.5L1424 506.7L1423.6 500.9L1424 495.6L1424.6 490.4L1422.6 483.3L1424.5 477.6L1423.3 471.6L1424.1 466.8L1423.6 460.8L1423.7 452.8L1424.3 447.5L1422.4 442.9L1422.4 435.9L1423.5 430.6L1423.2 423L1423 417L1423.6 411.4L1424.1 405.1L1423.1 399.1L1424.7 394.5L1424.3 388L1423.3 380.9L1424.3 375.7L1422.4 368.9L1422.5 364.2L1424.5 357L1424.2 351.3L1423.9 346.6L1423.8 340.4L1423.2 332.5L1423.5 327.9L1422.7 321.5L1423.1 314.6L1423 309.4L1423.4 304.2L1423.3 298.9L1424.3 292.7L1424 286.1L1423.6 280.4L1423.2 273.9L1423.9 267.8L1423 260.7L1422.5 255.4L1423.7 250.3L1424 243.3L1424.5 237.2L1424 230.7L1424.1 226.1L1424.6 220.7L1424 214.5L1424.1 208L1422.8 201.8L1424.5 195.1L1424.6 189.8L1423.2 182.5L1423.2 176.9L1423.9 172.7L1424.5 166L1423.2 158.8L1424 153.8L1424 147.4L1424.4 141L1423 135.2L1423.8 130.7L1422.7 124L1424.1 117.1L1422.5 111.9L1424.3 106.6L1424 99.5L1423.3 93.8L1424.5 87.2L1423 82L1424.6 75L1422.4 68.8L1423.7 64L1422.7 57L1423.7 52.1L1424 46.3L1422.4 39.7L1424.3 34.8Z" fill="#04ee08"/>
</g>
<g filter="url(#tcoarse)">
<path d="M1432.2 312.7L1442 309.7L1447.1 310.7L1451 316.7L1449.5 319.1L1454.8 327.5L1455.9 331.6L1455.6 341.7L1455.8 349.2L1460.6 350.9L1457.3 359.9L1464.7 364.5L1466.2 368.5L1470.5 371.3L1477.9 376.5L1481.5 379.7L1486 385.5L1491 387.8L1498.4 395.2L1502 397.8L1507.3 406.7L1505.1 410L1509.8 418.2L1511.2 423.2L1511 431L1508.6 437L1511.6 438.7L1509.2 430.9L1506.4 422.6L1510 419.9L1506.4 427.1L1508.8 434.2L1506.7 439.5L1507.1 447.8L1506.8 452.2L1501.6 450.4L1493.1 452.1L1492.2 448.7L1483.5 443.1L1478.3 444.5L1473.5 440.2L1467.8 436.5L1459.9 442.3L1454.2 440.7L1446.5 438.7L1445.1 435.3L1443.4 446L1443.1 452L1440.3 456.1L1432.8 457.5L1423.9 460.9L1420.2 456.2L1414 456.1L1412.9 448.9L1413.5 443.9L1419.7 440.8L1422.9 437.6L1427.1 435.7L1430 430.3L1429.1 424L1425.6 417.6L1427.1 407.2L1423.1 400.4L1426.6 402.3L1423.3 410.7L1419.7 409.5L1412.2 411.9L1409 407.3L1411.8 401.7L1409.7 395.3L1408.1 388.4L1410.1 380.8L1408.5 378L1410.5 367.9L1410.9 364.6L1407.8 353.9L1408.4 351.1L1408.5 344.5L1411.1 337.2L1413.4 335.5L1421.9 329.5L1424.7 327.3L1431.5 324.3L1432.5 318.6L1431.8 310.4Z" fill="#7cf208"/>
<path d="M1430.2 267.9L1431.5 260.9L1441.6 261.8L1446.9 258.9L1452.9 261.8L1459.1 260.8L1463.1 266L1468.7 274.2L1473.8 277L1474.8 281L1476.3 285.2L1482.5 291.8L1486.7 299.3L1491.8 302.4L1493.9 305L1498 311L1501.3 321.3L1502.9 323.6L1504.7 333.2L1504.6 340.2L1504 346.1L1501 353.5L1503.3 355.7L1495.9 358.7L1488.4 360.5L1482.6 365.2L1478.7 361.7L1474.9 356.3L1474.7 348.3L1468.6 347.1L1462.9 344.9L1455.9 341.3L1456.7 334.2L1456.1 328.5L1454.7 322.3L1453.9 318L1450.2 310.8L1445.7 307.2L1438.6 301.6L1433.4 303.6L1431.8 294L1432.2 290.9L1433 281.7L1432.8 274.5L1430.5 269.5Z" fill="#0a0ab8"/>
<path d="M1430.2 233L1437.4 233.3L1445.3 230.5L1448.1 235.1L1450.4 238.4L1455.3 246L1453.4 252.3L1450.5 256.9L1445.7 264.3L1439.2 266.3L1436 267.7L1433 275.9L1429.9 279.5L1432.3 288.2L1434.8 294.7L1433.2 301.3L1429.7 306.9L1428.1 313.8L1426.6 314.6L1418.1 319.3L1418.2 315.5L1412.1 309.9L1411 303.9L1409.8 298.5L1410.6 293.6L1410.7 287.3L1412.1 281.2L1412.6 270.5L1415 268.4L1416.7 260L1417.4 251.9L1420.1 247.6L1419.3 238.8L1426.1 239L1428 235.1Z" fill="#38b4ee"/>
<path d="M1442.8 276.1L1449.9 274.7L1454.5 274.3L1465.2 274.7L1465.5 278L1465.4 284.7L1462.1 289.9L1459.4 299.9L1456.6 300.9L1450 298.8L1442.4 298.7L1440.7 294.7L1441.6 285.1L1443.1 282.4Z" fill="#28e2c8"/>
<path d="M1466.3 308.4L1473.5 308.2L1479.5 306.9L1478.8 310.4L1486.4 317.2L1489.6 319.9L1490.4 325.9L1489.2 333.9L1482 335.1L1477 339.6L1473.1 336.4L1467.6 334.7L1462.1 330L1454.3 329.3L1455.8 320.3L1462.2 317.7L1462 312.7Z" fill="#18e288"/>
<path d="M1477.2 330.2L1482.1 328.1L1486 330.9L1494.9 332.2L1496.5 336.9L1496 343.6L1498.3 348.1L1491.3 351.4L1486.7 355.1L1489.9 360.1L1484.6 363.6L1480.7 358L1473.9 354.6L1474.7 346.9L1470.7 339.5L1475 333.7Z" fill="#38d2dc"/>
<path d="M1457.2 343.1L1465.4 342.7L1471 344.6L1471.6 351.1L1474.6 356.4L1477.8 360.4L1484.9 363.5L1489.2 357.7L1497.5 361.5L1502.5 362.4L1505 366.3L1503.1 373.9L1502.2 378.4L1507.1 387.1L1510.4 391.1L1516.4 395.4L1510.6 395.5L1501.7 397.5L1500.2 394.6L1493.7 390.8L1489.5 385L1486.3 382.9L1478.4 378.1L1474.7 375.8L1470.5 369L1466.5 364.3L1459.9 362.9L1457.6 355.1L1456.2 349.6Z" fill="#0a0ab8"/>
<path d="M1443.8 271.7L1439.8 275.6L1433.5 272.5L1436.4 266.6L1438.7 263.9L1443.1 266Z" fill="#0a0ab8"/>
<path d="M1460.6 268L1455.1 275.2L1449.1 271.2L1454.1 263.4L1458 264.7Z" fill="#0a0ab8"/>
<path d="M1482.6 297.9L1478.8 301.4L1474.8 302.5L1474.3 293.4L1479.3 292.8Z" fill="#0a0ab8"/>
<path d="M1459.8 306.2L1458.7 310.7L1450.7 310.1L1447.9 304.1L1454.9 302.4L1456.8 302.9Z" fill="#0a0ab8"/>
<path d="M1430.5 323.1L1427.6 325L1418.9 324.1L1420.6 320.7L1428.5 318.2Z" fill="#0a0ab8"/>
<path d="M1407.7 412.7L1416.4 413.6L1420.3 410.4L1423.6 413.4L1426.9 419.4L1426.2 426.4L1425.2 434L1429 440L1422.7 437.9L1417.3 443.1L1414.9 443.6L1411.8 437.8L1412.2 431.6L1408.3 425.4L1409.3 418.4L1409.4 410.2L1408.2 408.2Z" fill="#2a70e6"/>
<path d="M1411.9 459L1421.2 460.3L1425.8 456.7L1434.7 458.8L1438.9 458.9L1440.7 465.4L1440.2 468.9L1444.9 476.1L1441.2 484.9L1442.7 488L1441.8 497.1L1439.4 503.6L1438.7 508.4L1436.4 513.2L1435.7 518.1L1430.1 521.2L1422.1 526.1L1416.2 521.9L1413.1 520.3L1410.8 511L1414.2 506.7L1410.5 499.9L1410.4 495.2L1411.7 485.1L1413.2 478.5L1410.5 471.7L1413.8 465.7L1413.6 459.2Z" fill="#f26a18"/>
<path d="M1445.4 439.1L1450.6 438.7L1458.3 436.9L1464.1 439.3L1470.3 441.6L1473 440.6L1481.5 442.8L1484.8 445.9L1493.4 452.6L1498.7 452.5L1504.9 457.4L1507 460.2L1513.2 461.6L1514.9 469.5L1515.8 478.9L1517.2 482.6L1519.4 492.1L1518.5 498.2L1516.1 500.5L1516.9 511.2L1521.3 515.5L1525 517.2L1532.3 519.7L1528.9 524.5L1525.1 531.8L1519.8 532.6L1517.4 537.2L1518.7 544.3L1521.2 545.9L1530.5 547.8L1537.3 549.2L1541.1 549.3L1547.5 558.2L1548.5 560L1547.3 567.7L1547.7 576.9L1547.8 579.5L1548.4 587.5L1556.6 589L1555.9 597L1559.9 601L1552.3 610.8L1551.8 614.3L1554.3 621.4L1556.2 625.3L1557.9 628.2L1555.6 636.9L1552.3 640.7L1549.5 647.7L1547.5 651.7L1547.8 660.6L1547.2 667.5L1541.5 672.8L1538.9 675.6L1534.4 677.9L1532.2 687.7L1534.2 693.6L1538 696.7L1539.4 703.8L1541.4 708.6L1536.8 714.1L1541.8 723.3L1539.6 730.1L1543.7 733.8L1549.1 737.8L1549.6 743.5L1556.4 749.9L1557.6 757.8L1559.6 763.2L1561 768.6L1564.7 773.7L1568.2 780.2L1565.4 784.6L1559.8 783.7L1550.6 784.7L1545.6 782.4L1539.1 784.2L1530.7 785.4L1527.4 783.5L1521.4 786.9L1513.8 783.9L1505.3 782.4L1498.8 787L1491.2 786.5L1488 785.8L1478.4 785.1L1472.5 785.3L1469 785.5L1461.2 786.4L1453.1 782.6L1449.9 782.1L1441.1 784L1436.9 783.7L1428.8 784.4L1421.9 784.2L1415.3 784.9L1409.8 782.8L1412.5 779.2L1409.1 772.5L1408.1 762.8L1412.7 755.5L1411.6 753.3L1411.5 744L1408.5 737.4L1410.9 732.7L1410.6 726.3L1410.8 718.9L1412.8 710L1413.9 704.9L1411.6 701.2L1412.1 692.3L1410.4 684.2L1413.4 679.2L1412.9 673.7L1413.2 665.3L1414.2 659.4L1410.8 655.1L1414.7 644.7L1414.7 641.2L1411.5 634.1L1414.9 625.4L1413.5 619.4L1410.9 616.6L1415.3 608.5L1414.2 600.7L1412.3 595.3L1414.3 589.3L1412.5 582.4L1412.2 576.8L1414.6 570.1L1411.8 561.6L1415.2 555.1L1413.5 547.1L1410.8 541.3L1413.6 534.8L1413.5 527.5L1416.5 526.6L1420.4 522.6L1426.1 520.8L1431.4 516.2L1440.3 516.7L1439 509L1442 504.8L1441.9 496.1L1443.4 491L1443.6 483.6L1444.5 474.1L1444.3 468.6L1442.2 462.9L1443 457.5L1443.4 449.5L1442.2 444.8Z" fill="#0c0ce2"/>
<path d="M1514.1 452.8L1520.9 452.7L1523.1 457.9L1522.4 464.3L1522.7 468.3L1528.8 471.7L1527.6 478.1L1521.7 480.3L1514.7 476.7L1517.2 469L1512.8 461.5L1515.6 454.1Z" fill="#38d2dc"/>
<path d="M1516.2 540.3L1524.8 536.3L1530.1 537.3L1532.1 540.2L1527.9 547.3L1528 551.9L1522.5 556.6L1517.8 559.9L1514.6 554.8L1513.3 547.4L1518 537.5Z" fill="#18e288"/>
<path d="M1530.8 526.9L1535.9 529.4L1540.9 535.8L1546.6 533.2L1551.3 529.2L1558.6 532.2L1563.4 538.9L1568.8 544.5L1567.7 545.3L1564.3 549.5L1555.7 552.7L1555.2 558.7L1547.8 561L1543 560.2L1540.5 553.5L1536.4 550.7L1529.9 550.7L1526.5 552.3L1522.6 556.1L1530.5 549L1533 546.2L1528.4 538.1L1530.6 533.3L1531.4 527.4Z" fill="#0a0ab8"/>
<path d="M1549.7 565.3L1552.7 558.6L1555.7 555.8L1560.5 550.6L1566.6 553.1L1570.5 557.6L1571.2 564.1L1570.6 570.9L1565.8 573.2L1559.9 577.7L1554.4 580L1553.8 573.5L1548 569Z" fill="#18e288"/>
<path d="M1572.4 547.2L1578.1 549.2L1579.1 552.1L1584.5 559.5L1578.3 558.3L1574.3 557L1569.6 547.8Z" fill="#38b4ee"/>
<path d="M1572.3 568.6L1579.7 563.3L1582.3 562.7L1589.5 566.2L1587.9 570.6L1582.2 575.8L1578.7 574.2L1576.8 570.5Z" fill="#0a0ab8"/>
<path d="M1560 577L1560.5 577.8L1566.7 569.5L1574.5 567L1581.9 564.4L1588.5 563L1590.2 571.1L1594 576.6L1595.7 578.2L1597.3 587.5L1594.9 591.9L1598.4 600.4L1597.5 607.6L1595.5 612.7L1591.5 618.8L1585 625.6L1581.1 629.7L1579.8 633.2L1569.5 636.4L1566.8 631.4L1558.7 629L1557.2 625L1559 616.4L1557.8 610.7L1559.8 602.3L1557 597.3L1556.6 590.8L1557.9 583.5Z" fill="#04ee08"/>
<path d="M1598.9 615.3L1605.2 611.8L1610 614.7L1613.5 617.4L1614 625.2L1613.8 631.7L1612.4 636.3L1615.6 644.5L1614.8 652.6L1614.6 655.6L1617.5 664.8L1617.4 671.4L1620 676.5L1619.9 683L1620 690.9L1619.5 694.3L1616.6 702.8L1612.5 705.5L1606.6 706.3L1598.1 709.2L1600 712.5L1599.7 717.5L1602 724.2L1605.5 733.5L1604.9 737.7L1605.3 743.8L1606.5 750.7L1598.6 752.3L1597.2 760.1L1595 763.7L1590 772.2L1584.2 774.7L1576.1 776L1569.9 769.8L1564.2 768.5L1564.9 763.5L1562.9 757.4L1559 751.6L1556.2 743.2L1552.5 739L1543.7 733.1L1542.6 728L1543.6 725.6L1538.5 714.8L1539.6 708.7L1539.1 705.5L1536.2 697.2L1537.9 691L1533.3 687.1L1539 682.3L1543.2 675.5L1546.5 672.4L1547.1 662.9L1546.3 657.4L1549.8 651.7L1552.1 648.6L1555.8 645.1L1562.9 642.1L1571.3 637.6L1577.5 633.4L1581.1 632.5L1583.7 627.8L1589 622.2L1594.3 614.8Z" fill="#f21010"/>
<path d="M1598.5 590.8L1602.1 590.4L1608.6 587.5L1614.4 586.7L1621.1 587.4L1630.4 589.1L1635 591.3L1638.8 593.8L1637.4 604.6L1639.6 608.4L1637.3 617.4L1634.3 622.6L1635 623.5L1625.9 623.3L1620.6 622.7L1616.5 623.2L1608.1 619.4L1601.4 611.7L1602.3 609.6L1601.7 604.2L1600.6 594.1Z" fill="#0a0ab8"/>
<path d="M1642.1 562.2L1651.1 558.5L1657.7 560.7L1659.9 562.4L1667.5 559L1674.9 560.5L1676.4 564.7L1680.5 570.2L1680.7 577.3L1680.5 581.5L1677.2 589.4L1675 598.5L1675.9 600.1L1673.5 607.9L1669.2 612.7L1665.4 615.7L1660.1 620.3L1651.8 619.8L1645.3 613.8L1643.1 615.6L1636.4 615.8L1634.2 609.3L1634.2 602.9L1632.3 598.1L1633.8 587.6L1635.3 585.2L1638.5 577.2L1639.7 569.8L1642.1 564.2Z" fill="#f26a18"/>
<path d="M1631.5 550.9L1635.1 552.7L1640.9 553.4L1651 549.3L1657.1 551.5L1663.3 553.5L1671.4 552.7L1676.8 556.7L1680.5 557L1675.6 559.8L1664.9 561.8L1662.1 563.6L1653.1 563L1644.9 563.7L1640.2 562.7L1634.3 564.3L1631 563.3L1631.9 558.2Z" fill="#0a0ab8"/>
<path d="M1624.6 567.3L1632.7 565.4L1633.1 570.8L1635.3 574.9L1633.7 575.5L1627.7 576.4L1622.2 572.6Z" fill="#f2c410"/>
<path d="M1614.3 621.1L1623.3 621.4L1627.4 622.8L1634.8 622.1L1634.6 631.9L1633.3 635L1632.8 641.8L1629.2 648.2L1623.8 648.3L1617.9 646.1L1618.8 638.5L1618.5 629.9L1615.2 625.7Z" fill="#2a70e6"/>
<path d="M1640.5 624.7L1647.2 620.5L1650.6 616.8L1655.8 621.4L1660.1 621.4L1666.6 623.6L1674.3 628.2L1674.3 634.9L1676.3 641.1L1669.8 646.4L1665.3 649.3L1659.7 645.5L1653.8 645.4L1646.5 644.4L1643.5 642L1642.5 635.5L1642.2 628.3Z" fill="#d6f008"/>
<path d="M1675.7 615.6L1679.5 618.4L1683.3 620.8L1685 629.2L1688.8 634.8L1688.7 643.3L1678.4 639.5L1675.8 638.9L1677.5 632.8L1678.7 625L1675.8 615.5Z" fill="#f2c410"/>
<path d="M1650.3 639.9L1658.7 644.1L1663.8 642.3L1670.6 646.9L1674 651.7L1680 654.1L1677.6 660.1L1671.4 666.3L1663.7 660.7L1661.9 660.8L1653.8 655.9L1651.2 653.7L1650.9 643.5Z" fill="#0a0ab8"/>
<path d="M1630.5 651.8L1638.2 655.4L1645.7 654.4L1650.1 653.3L1659.9 654.2L1661.8 662.4L1657.7 662.7L1653.5 665.4L1643.5 670.6L1641.8 671.8L1636.9 665L1629.6 659.8L1634.9 653.3Z" fill="#f2c410"/>
<path d="M1612.9 648.9L1620.7 647.1L1626.3 650.3L1632.4 648.5L1631.6 657.2L1631.3 665.5L1627 666.1L1623.2 668.7L1614.9 662.8L1612.5 656.5L1613.1 653.5Z" fill="#04ee08"/>
<path d="M1622.8 671.4L1630.6 671.1L1637 666.5L1639.5 672.8L1638.3 677.2L1641.4 683.7L1636.6 691.2L1634.1 694.7L1624 690.4L1621.3 689.7L1624.4 684.5L1624.9 676.9Z" fill="#7cf208"/>
<path d="M1641.8 672.2L1649.2 671.8L1653.2 671.4L1658.7 672.6L1660.6 680L1659 683.5L1658.1 689.5L1653.3 692.6L1657 696.2L1659 703.7L1656.5 709.9L1650.3 708.9L1646 708.2L1641.4 702.4L1641.1 697.2L1633.8 691.9L1641.1 689.3L1643.2 685.9L1641.5 676.4Z" fill="#0a0ab8"/>
<path d="M1650.7 679.7L1659.7 676.3L1664.6 673.1L1666.2 668.7L1671.9 672L1676.7 676.4L1680.7 681.8L1680.6 690.2L1676.5 695.6L1675 697.5L1665.2 701L1662.9 700.7L1654.6 697.9L1650.7 694.8L1649.9 686.7L1651 682.3Z" fill="#7cf208"/>
<path d="M1671.5 662.5L1677.6 666.4L1685 665.1L1685.7 670.6L1683.4 674.9L1680.6 680.2L1674.7 673.8L1673.2 668.9Z" fill="#0a0ab8"/>
<path d="M1676.3 692L1683.2 689.7L1689.6 691L1695.6 689.6L1698.9 687L1698.3 683.4L1696.7 678.6L1699.5 670.8L1705.7 670.1L1707.7 674.2L1711.4 678.3L1714.3 686.1L1715.8 692.2L1711.5 697.9L1713.3 705.8L1710.6 702.8L1704.1 701.1L1695.1 699.6L1689.8 698.3L1682.6 698.7L1678.3 696.9L1675 691.4Z" fill="#0a0ab8"/>
<path d="M1612.3 704.4L1618.1 701.7L1625.9 700.2L1630.2 696L1634.3 701.7L1639.1 707.1L1642.1 707.5L1649.1 713.4L1656.4 719.1L1656.1 720.4L1653.4 726.5L1644.9 726.4L1637.1 728.1L1630.9 725L1627.8 725.7L1622.7 721.8L1618.9 719.1L1617.9 710Z" fill="#d6f008"/>
<path d="M1670.3 706.9L1674.5 702.8L1685.7 703.7L1687.8 702.2L1698.2 703.5L1700.2 706.8L1703.3 710.2L1706.8 715.7L1708.5 719.7L1700.1 719.8L1695.5 720.4L1688.5 725.9L1691.6 728.4L1692.7 738.7L1691.4 744.6L1692.5 747.7L1693.8 754.8L1696.4 762L1696.1 770.7L1690.9 774.7L1688.9 781.8L1687.7 784.8L1678.5 784.9L1672.2 786.1L1667.5 782.3L1665.3 784.9L1661.5 778.4L1660.8 769.8L1661.8 764.7L1658.7 754.3L1658.7 749.6L1662.6 744.9L1659.8 738.5L1661 728.3L1664.8 727.1L1670.9 719.5L1672.1 712.3L1668.7 709.7Z" fill="#d6f008"/>
<path d="M1690.1 721.2L1695.4 724.8L1704.1 723.6L1709.2 723.7L1712.4 730.9L1714.8 737.4L1716.1 742.7L1713.5 747.6L1717.4 754.1L1717.9 762.9L1714.1 770.2L1713.2 777.1L1716.7 780.2L1712 785.6L1702.4 785.3L1695.9 786.5L1696.9 782.5L1693.9 772.6L1697.1 767.6L1695.1 762.5L1698.1 753.1L1692.9 748.7L1692.7 742.3L1691.8 734.6L1688.7 726.8Z" fill="#7cf208"/>
<path d="M1617 727.7L1621.6 728.3L1630.5 730.3L1637.8 726.8L1641.8 726.2L1647.3 728.2L1652.8 726.2L1659.1 731.7L1657.7 738.4L1661.5 741.8L1662.1 751.9L1659.9 755.5L1663.3 763L1659.1 768.2L1663.2 777.3L1663.2 784.5L1656.4 786.8L1649.1 784.6L1645 785L1638.6 784.8L1631.3 782L1622.3 783.3L1615.1 783L1612 780.2L1615.5 774.2L1614.8 766.9L1615 764.2L1617.6 756.1L1615.9 750.2L1615.4 741.9L1619.2 736.8Z" fill="#f26a18"/>
<path d="M1600 718.6L1607.1 717.9L1616.3 720.2L1616.8 723.1L1613.9 729.2L1616.2 737.9L1617.8 743.8L1611.2 739.3L1607.2 740.8L1603.6 730.9L1603.6 726.5L1604.1 720.5Z" fill="#0a0ab8"/>
<path d="M1712.9 726.6L1721.7 725.3L1724.9 725.1L1725.7 730.6L1726.5 739.7L1730.6 747.2L1726.9 752.1L1730.3 757.1L1732.5 763.4L1740.8 761.4L1743.8 758.4L1754.1 758.9L1758 766.6L1761.4 764.8L1770.1 768.7L1769.7 770.8L1770 776.2L1771.6 786L1763.8 782L1758.8 785.6L1752 783.5L1746.4 785L1738.6 784.6L1730.3 784.1L1726.7 785.3L1717.9 786L1716.7 779.6L1713.8 774L1713.8 770.3L1717.8 762.8L1719 755.4L1714 747.7L1713.9 745L1714.7 734.5L1713.3 727.9Z" fill="#0a0ab8"/>
<path d="M1727.3 741.5L1732.7 739.5L1739.1 736.6L1742.4 742.3L1744 751.9L1742.7 757.2L1739 763.1L1737.4 760.9L1732.8 759.7L1726.3 752.8L1729.5 749Z" fill="#f26a18"/>
<path d="M1759.5 756.1L1764.4 757.5L1768.9 754.7L1774.7 759.3L1772.6 761.2L1774.9 771.6L1776.1 772.4L1770 774.4L1766 773.1L1758.9 767.3L1758.3 757.1Z" fill="#04ee08"/>
<path d="M1785.7 748.7L1792.3 746L1798.1 746.4L1800 751.4L1804.2 754.6L1812 759.1L1819.6 756.9L1827.7 760.1L1830.2 761.5L1834.3 767L1838.2 771.6L1836.6 781.4L1836.3 784.7L1830.6 783L1824.5 786.5L1813.8 783.5L1809 783.8L1803.5 783.1L1797.5 786.4L1792.5 786.2L1782.3 785.6L1779.2 784.5L1780.4 776.6L1782.7 770.1L1783.3 764L1784.7 756.5L1784.8 754Z" fill="#0a0ab8"/>
<path d="M1801.8 719.4L1807.1 715.5L1812.7 710.2L1816.2 705.3L1822.6 708.2L1824.2 709.3L1825.9 714.7L1829.8 719.3L1827 725.4L1826.8 734.1L1827.1 738.6L1829 745.9L1826.4 752.6L1825.4 756L1818 760.5L1811.6 757.2L1806 753.6L1802.8 746.7L1805.2 742.3L1801.7 733.7L1801.2 726.8L1801.6 719.5Z" fill="#2a70e6"/>
<path d="M1811.9 693.2L1818.6 695.7L1824.3 695.4L1820.1 703.7L1814.2 703.7L1815.3 696.6Z" fill="#0a0ab8"/>
<path d="M1741.1 674.8L1748.3 674.6L1749.8 682.6L1745.9 683.8L1742.5 682.6L1739.3 680.5Z" fill="#0a0ab8"/>
</g>
<g filter="url(#soft2)">
<path d="M1432.2 312.7L1442 309.7L1447.1 310.7L1451 316.7L1449.5 319.1L1454.8 327.5L1455.9 331.6L1455.6 341.7L1455.8 349.2L1460.6 350.9L1457.3 359.9L1464.7 364.5L1466.2 368.5L1470.5 371.3L1477.9 376.5L1481.5 379.7L1486 385.5L1491 387.8L1498.4 395.2L1502 397.8L1507.3 406.7L1505.1 410L1509.8 418.2L1511.2 423.2L1511 431L1508.6 437L1511.6 438.7L1509.2 430.9L1506.4 422.6L1510 419.9L1506.4 427.1L1508.8 434.2L1506.7 439.5L1507.1 447.8L1506.8 452.2L1501.6 450.4L1493.1 452.1L1492.2 448.7L1483.5 443.1L1478.3 444.5L1473.5 440.2L1467.8 436.5L1459.9 442.3L1454.2 440.7L1446.5 438.7L1445.1 435.3L1443.4 446L1443.1 452L1440.3 456.1L1432.8 457.5L1423.9 460.9L1420.2 456.2L1414 456.1L1412.9 448.9L1413.5 443.9L1419.7 440.8L1422.9 437.6L1427.1 435.7L1430 430.3L1429.1 424L1425.6 417.6L1427.1 407.2L1423.1 400.4L1426.6 402.3L1423.3 410.7L1419.7 409.5L1412.2 411.9L1409 407.3L1411.8 401.7L1409.7 395.3L1408.1 388.4L1410.1 380.8L1408.5 378L1410.5 367.9L1410.9 364.6L1407.8 353.9L1408.4 351.1L1408.5 344.5L1411.1 337.2L1413.4 335.5L1421.9 329.5L1424.7 327.3L1431.5 324.3L1432.5 318.6L1431.8 310.4ZM1430.2 267.9L1431.5 260.9L1441.6 261.8L1446.9 258.9L1452.9 261.8L1459.1 260.8L1463.1 266L1468.7 274.2L1473.8 277L1474.8 281L1476.3 285.2L1482.5 291.8L1486.7 299.3L1491.8 302.4L1493.9 305L1498 311L1501.3 321.3L1502.9 323.6L1504.7 333.2L1504.6 340.2L1504 346.1L1501 353.5L1503.3 355.7L1495.9 358.7L1488.4 360.5L1482.6 365.2L1478.7 361.7L1474.9 356.3L1474.7 348.3L1468.6 347.1L1462.9 344.9L1455.9 341.3L1456.7 334.2L1456.1 328.5L1454.7 322.3L1453.9 318L1450.2 310.8L1445.7 307.2L1438.6 301.6L1433.4 303.6L1431.8 294L1432.2 290.9L1433 281.7L1432.8 274.5L1430.5 269.5ZM1430.2 233L1437.4 233.3L1445.3 230.5L1448.1 235.1L1450.4 238.4L1455.3 246L1453.4 252.3L1450.5 256.9L1445.7 264.3L1439.2 266.3L1436 267.7L1433 275.9L1429.9 279.5L1432.3 288.2L1434.8 294.7L1433.2 301.3L1429.7 306.9L1428.1 313.8L1426.6 314.6L1418.1 319.3L1418.2 315.5L1412.1 309.9L1411 303.9L1409.8 298.5L1410.6 293.6L1410.7 287.3L1412.1 281.2L1412.6 270.5L1415 268.4L1416.7 260L1417.4 251.9L1420.1 247.6L1419.3 238.8L1426.1 239L1428 235.1ZM1442.8 276.1L1449.9 274.7L1454.5 274.3L1465.2 274.7L1465.5 278L1465.4 284.7L1462.1 289.9L1459.4 299.9L1456.6 300.9L1450 298.8L1442.4 298.7L1440.7 294.7L1441.6 285.1L1443.1 282.4ZM1466.3 308.4L1473.5 308.2L1479.5 306.9L1478.8 310.4L1486.4 317.2L1489.6 319.9L1490.4 325.9L1489.2 333.9L1482 335.1L1477 339.6L1473.1 336.4L1467.6 334.7L1462.1 330L1454.3 329.3L1455.8 320.3L1462.2 317.7L1462 312.7ZM1477.2 330.2L1482.1 328.1L1486 330.9L1494.9 332.2L1496.5 336.9L1496 343.6L1498.3 348.1L1491.3 351.4L1486.7 355.1L1489.9 360.1L1484.6 363.6L1480.7 358L1473.9 354.6L1474.7 346.9L1470.7 339.5L1475 333.7ZM1457.2 343.1L1465.4 342.7L1471 344.6L1471.6 351.1L1474.6 356.4L1477.8 360.4L1484.9 363.5L1489.2 357.7L1497.5 361.5L1502.5 362.4L1505 366.3L1503.1 373.9L1502.2 378.4L1507.1 387.1L1510.4 391.1L1516.4 395.4L1510.6 395.5L1501.7 397.5L1500.2 394.6L1493.7 390.8L1489.5 385L1486.3 382.9L1478.4 378.1L1474.7 375.8L1470.5 369L1466.5 364.3L1459.9 362.9L1457.6 355.1L1456.2 349.6ZM1443.8 271.7L1439.8 275.6L1433.5 272.5L1436.4 266.6L1438.7 263.9L1443.1 266ZM1460.6 268L1455.1 275.2L1449.1 271.2L1454.1 263.4L1458 264.7ZM1482.6 297.9L1478.8 301.4L1474.8 302.5L1474.3 293.4L1479.3 292.8ZM1459.8 306.2L1458.7 310.7L1450.7 310.1L1447.9 304.1L1454.9 302.4L1456.8 302.9ZM1430.5 323.1L1427.6 325L1418.9 324.1L1420.6 320.7L1428.5 318.2ZM1407.7 412.7L1416.4 413.6L1420.3 410.4L1423.6 413.4L1426.9 419.4L1426.2 426.4L1425.2 434L1429 440L1422.7 437.9L1417.3 443.1L1414.9 443.6L1411.8 437.8L1412.2 431.6L1408.3 425.4L1409.3 418.4L1409.4 410.2L1408.2 408.2ZM1411.9 459L1421.2 460.3L1425.8 456.7L1434.7 458.8L1438.9 458.9L1440.7 465.4L1440.2 468.9L1444.9 476.1L1441.2 484.9L1442.7 488L1441.8 497.1L1439.4 503.6L1438.7 508.4L1436.4 513.2L1435.7 518.1L1430.1 521.2L1422.1 526.1L1416.2 521.9L1413.1 520.3L1410.8 511L1414.2 506.7L1410.5 499.9L1410.4 495.2L1411.7 485.1L1413.2 478.5L1410.5 471.7L1413.8 465.7L1413.6 459.2ZM1445.4 439.1L1450.6 438.7L1458.3 436.9L1464.1 439.3L1470.3 441.6L1473 440.6L1481.5 442.8L1484.8 445.9L1493.4 452.6L1498.7 452.5L1504.9 457.4L1507 460.2L1513.2 461.6L1514.9 469.5L1515.8 478.9L1517.2 482.6L1519.4 492.1L1518.5 498.2L1516.1 500.5L1516.9 511.2L1521.3 515.5L1525 517.2L1532.3 519.7L1528.9 524.5L1525.1 531.8L1519.8 532.6L1517.4 537.2L1518.7 544.3L1521.2 545.9L1530.5 547.8L1537.3 549.2L1541.1 549.3L1547.5 558.2L1548.5 560L1547.3 567.7L1547.7 576.9L1547.8 579.5L1548.4 587.5L1556.6 589L1555.9 597L1559.9 601L1552.3 610.8L1551.8 614.3L1554.3 621.4L1556.2 625.3L1557.9 628.2L1555.6 636.9L1552.3 640.7L1549.5 647.7L1547.5 651.7L1547.8 660.6L1547.2 667.5L1541.5 672.8L1538.9 675.6L1534.4 677.9L1532.2 687.7L1534.2 693.6L1538 696.7L1539.4 703.8L1541.4 708.6L1536.8 714.1L1541.8 723.3L1539.6 730.1L1543.7 733.8L1549.1 737.8L1549.6 743.5L1556.4 749.9L1557.6 757.8L1559.6 763.2L1561 768.6L1564.7 773.7L1568.2 780.2L1565.4 784.6L1559.8 783.7L1550.6 784.7L1545.6 782.4L1539.1 784.2L1530.7 785.4L1527.4 783.5L1521.4 786.9L1513.8 783.9L1505.3 782.4L1498.8 787L1491.2 786.5L1488 785.8L1478.4 785.1L1472.5 785.3L1469 785.5L1461.2 786.4L1453.1 782.6L1449.9 782.1L1441.1 784L1436.9 783.7L1428.8 784.4L1421.9 784.2L1415.3 784.9L1409.8 782.8L1412.5 779.2L1409.1 772.5L1408.1 762.8L1412.7 755.5L1411.6 753.3L1411.5 744L1408.5 737.4L1410.9 732.7L1410.6 726.3L1410.8 718.9L1412.8 710L1413.9 704.9L1411.6 701.2L1412.1 692.3L1410.4 684.2L1413.4 679.2L1412.9 673.7L1413.2 665.3L1414.2 659.4L1410.8 655.1L1414.7 644.7L1414.7 641.2L1411.5 634.1L1414.9 625.4L1413.5 619.4L1410.9 616.6L1415.3 608.5L1414.2 600.7L1412.3 595.3L1414.3 589.3L1412.5 582.4L1412.2 576.8L1414.6 570.1L1411.8 561.6L1415.2 555.1L1413.5 547.1L1410.8 541.3L1413.6 534.8L1413.5 527.5L1416.5 526.6L1420.4 522.6L1426.1 520.8L1431.4 516.2L1440.3 516.7L1439 509L1442 504.8L1441.9 496.1L1443.4 491L1443.6 483.6L1444.5 474.1L1444.3 468.6L1442.2 462.9L1443 457.5L1443.4 449.5L1442.2 444.8ZM1514.1 452.8L1520.9 452.7L1523.1 457.9L1522.4 464.3L1522.7 468.3L1528.8 471.7L1527.6 478.1L1521.7 480.3L1514.7 476.7L1517.2 469L1512.8 461.5L1515.6 454.1ZM1516.2 540.3L1524.8 536.3L1530.1 537.3L1532.1 540.2L1527.9 547.3L1528 551.9L1522.5 556.6L1517.8 559.9L1514.6 554.8L1513.3 547.4L1518 537.5ZM1530.8 526.9L1535.9 529.4L1540.9 535.8L1546.6 533.2L1551.3 529.2L1558.6 532.2L1563.4 538.9L1568.8 544.5L1567.7 545.3L1564.3 549.5L1555.7 552.7L1555.2 558.7L1547.8 561L1543 560.2L1540.5 553.5L1536.4 550.7L1529.9 550.7L1526.5 552.3L1522.6 556.1L1530.5 549L1533 546.2L1528.4 538.1L1530.6 533.3L1531.4 527.4ZM1549.7 565.3L1552.7 558.6L1555.7 555.8L1560.5 550.6L1566.6 553.1L1570.5 557.6L1571.2 564.1L1570.6 570.9L1565.8 573.2L1559.9 577.7L1554.4 580L1553.8 573.5L1548 569ZM1572.4 547.2L1578.1 549.2L1579.1 552.1L1584.5 559.5L1578.3 558.3L1574.3 557L1569.6 547.8ZM1572.3 568.6L1579.7 563.3L1582.3 562.7L1589.5 566.2L1587.9 570.6L1582.2 575.8L1578.7 574.2L1576.8 570.5ZM1560 577L1560.5 577.8L1566.7 569.5L1574.5 567L1581.9 564.4L1588.5 563L1590.2 571.1L1594 576.6L1595.7 578.2L1597.3 587.5L1594.9 591.9L1598.4 600.4L1597.5 607.6L1595.5 612.7L1591.5 618.8L1585 625.6L1581.1 629.7L1579.8 633.2L1569.5 636.4L1566.8 631.4L1558.7 629L1557.2 625L1559 616.4L1557.8 610.7L1559.8 602.3L1557 597.3L1556.6 590.8L1557.9 583.5ZM1598.9 615.3L1605.2 611.8L1610 614.7L1613.5 617.4L1614 625.2L1613.8 631.7L1612.4 636.3L1615.6 644.5L1614.8 652.6L1614.6 655.6L1617.5 664.8L1617.4 671.4L1620 676.5L1619.9 683L1620 690.9L1619.5 694.3L1616.6 702.8L1612.5 705.5L1606.6 706.3L1598.1 709.2L1600 712.5L1599.7 717.5L1602 724.2L1605.5 733.5L1604.9 737.7L1605.3 743.8L1606.5 750.7L1598.6 752.3L1597.2 760.1L1595 763.7L1590 772.2L1584.2 774.7L1576.1 776L1569.9 769.8L1564.2 768.5L1564.9 763.5L1562.9 757.4L1559 751.6L1556.2 743.2L1552.5 739L1543.7 733.1L1542.6 728L1543.6 725.6L1538.5 714.8L1539.6 708.7L1539.1 705.5L1536.2 697.2L1537.9 691L1533.3 687.1L1539 682.3L1543.2 675.5L1546.5 672.4L1547.1 662.9L1546.3 657.4L1549.8 651.7L1552.1 648.6L1555.8 645.1L1562.9 642.1L1571.3 637.6L1577.5 633.4L1581.1 632.5L1583.7 627.8L1589 622.2L1594.3 614.8ZM1598.5 590.8L1602.1 590.4L1608.6 587.5L1614.4 586.7L1621.1 587.4L1630.4 589.1L1635 591.3L1638.8 593.8L1637.4 604.6L1639.6 608.4L1637.3 617.4L1634.3 622.6L1635 623.5L1625.9 623.3L1620.6 622.7L1616.5 623.2L1608.1 619.4L1601.4 611.7L1602.3 609.6L1601.7 604.2L1600.6 594.1ZM1642.1 562.2L1651.1 558.5L1657.7 560.7L1659.9 562.4L1667.5 559L1674.9 560.5L1676.4 564.7L1680.5 570.2L1680.7 577.3L1680.5 581.5L1677.2 589.4L1675 598.5L1675.9 600.1L1673.5 607.9L1669.2 612.7L1665.4 615.7L1660.1 620.3L1651.8 619.8L1645.3 613.8L1643.1 615.6L1636.4 615.8L1634.2 609.3L1634.2 602.9L1632.3 598.1L1633.8 587.6L1635.3 585.2L1638.5 577.2L1639.7 569.8L1642.1 564.2ZM1631.5 550.9L1635.1 552.7L1640.9 553.4L1651 549.3L1657.1 551.5L1663.3 553.5L1671.4 552.7L1676.8 556.7L1680.5 557L1675.6 559.8L1664.9 561.8L1662.1 563.6L1653.1 563L1644.9 563.7L1640.2 562.7L1634.3 564.3L1631 563.3L1631.9 558.2ZM1624.6 567.3L1632.7 565.4L1633.1 570.8L1635.3 574.9L1633.7 575.5L1627.7 576.4L1622.2 572.6ZM1614.3 621.1L1623.3 621.4L1627.4 622.8L1634.8 622.1L1634.6 631.9L1633.3 635L1632.8 641.8L1629.2 648.2L1623.8 648.3L1617.9 646.1L1618.8 638.5L1618.5 629.9L1615.2 625.7ZM1640.5 624.7L1647.2 620.5L1650.6 616.8L1655.8 621.4L1660.1 621.4L1666.6 623.6L1674.3 628.2L1674.3 634.9L1676.3 641.1L1669.8 646.4L1665.3 649.3L1659.7 645.5L1653.8 645.4L1646.5 644.4L1643.5 642L1642.5 635.5L1642.2 628.3ZM1675.7 615.6L1679.5 618.4L1683.3 620.8L1685 629.2L1688.8 634.8L1688.7 643.3L1678.4 639.5L1675.8 638.9L1677.5 632.8L1678.7 625L1675.8 615.5ZM1650.3 639.9L1658.7 644.1L1663.8 642.3L1670.6 646.9L1674 651.7L1680 654.1L1677.6 660.1L1671.4 666.3L1663.7 660.7L1661.9 660.8L1653.8 655.9L1651.2 653.7L1650.9 643.5ZM1630.5 651.8L1638.2 655.4L1645.7 654.4L1650.1 653.3L1659.9 654.2L1661.8 662.4L1657.7 662.7L1653.5 665.4L1643.5 670.6L1641.8 671.8L1636.9 665L1629.6 659.8L1634.9 653.3ZM1612.9 648.9L1620.7 647.1L1626.3 650.3L1632.4 648.5L1631.6 657.2L1631.3 665.5L1627 666.1L1623.2 668.7L1614.9 662.8L1612.5 656.5L1613.1 653.5ZM1622.8 671.4L1630.6 671.1L1637 666.5L1639.5 672.8L1638.3 677.2L1641.4 683.7L1636.6 691.2L1634.1 694.7L1624 690.4L1621.3 689.7L1624.4 684.5L1624.9 676.9ZM1641.8 672.2L1649.2 671.8L1653.2 671.4L1658.7 672.6L1660.6 680L1659 683.5L1658.1 689.5L1653.3 692.6L1657 696.2L1659 703.7L1656.5 709.9L1650.3 708.9L1646 708.2L1641.4 702.4L1641.1 697.2L1633.8 691.9L1641.1 689.3L1643.2 685.9L1641.5 676.4ZM1650.7 679.7L1659.7 676.3L1664.6 673.1L1666.2 668.7L1671.9 672L1676.7 676.4L1680.7 681.8L1680.6 690.2L1676.5 695.6L1675 697.5L1665.2 701L1662.9 700.7L1654.6 697.9L1650.7 694.8L1649.9 686.7L1651 682.3ZM1671.5 662.5L1677.6 666.4L1685 665.1L1685.7 670.6L1683.4 674.9L1680.6 680.2L1674.7 673.8L1673.2 668.9ZM1676.3 692L1683.2 689.7L1689.6 691L1695.6 689.6L1698.9 687L1698.3 683.4L1696.7 678.6L1699.5 670.8L1705.7 670.1L1707.7 674.2L1711.4 678.3L1714.3 686.1L1715.8 692.2L1711.5 697.9L1713.3 705.8L1710.6 702.8L1704.1 701.1L1695.1 699.6L1689.8 698.3L1682.6 698.7L1678.3 696.9L1675 691.4ZM1612.3 704.4L1618.1 701.7L1625.9 700.2L1630.2 696L1634.3 701.7L1639.1 707.1L1642.1 707.5L1649.1 713.4L1656.4 719.1L1656.1 720.4L1653.4 726.5L1644.9 726.4L1637.1 728.1L1630.9 725L1627.8 725.7L1622.7 721.8L1618.9 719.1L1617.9 710ZM1670.3 706.9L1674.5 702.8L1685.7 703.7L1687.8 702.2L1698.2 703.5L1700.2 706.8L1703.3 710.2L1706.8 715.7L1708.5 719.7L1700.1 719.8L1695.5 720.4L1688.5 725.9L1691.6 728.4L1692.7 738.7L1691.4 744.6L1692.5 747.7L1693.8 754.8L1696.4 762L1696.1 770.7L1690.9 774.7L1688.9 781.8L1687.7 784.8L1678.5 784.9L1672.2 786.1L1667.5 782.3L1665.3 784.9L1661.5 778.4L1660.8 769.8L1661.8 764.7L1658.7 754.3L1658.7 749.6L1662.6 744.9L1659.8 738.5L1661 728.3L1664.8 727.1L1670.9 719.5L1672.1 712.3L1668.7 709.7ZM1690.1 721.2L1695.4 724.8L1704.1 723.6L1709.2 723.7L1712.4 730.9L1714.8 737.4L1716.1 742.7L1713.5 747.6L1717.4 754.1L1717.9 762.9L1714.1 770.2L1713.2 777.1L1716.7 780.2L1712 785.6L1702.4 785.3L1695.9 786.5L1696.9 782.5L1693.9 772.6L1697.1 767.6L1695.1 762.5L1698.1 753.1L1692.9 748.7L1692.7 742.3L1691.8 734.6L1688.7 726.8ZM1617 727.7L1621.6 728.3L1630.5 730.3L1637.8 726.8L1641.8 726.2L1647.3 728.2L1652.8 726.2L1659.1 731.7L1657.7 738.4L1661.5 741.8L1662.1 751.9L1659.9 755.5L1663.3 763L1659.1 768.2L1663.2 777.3L1663.2 784.5L1656.4 786.8L1649.1 784.6L1645 785L1638.6 784.8L1631.3 782L1622.3 783.3L1615.1 783L1612 780.2L1615.5 774.2L1614.8 766.9L1615 764.2L1617.6 756.1L1615.9 750.2L1615.4 741.9L1619.2 736.8ZM1600 718.6L1607.1 717.9L1616.3 720.2L1616.8 723.1L1613.9 729.2L1616.2 737.9L1617.8 743.8L1611.2 739.3L1607.2 740.8L1603.6 730.9L1603.6 726.5L1604.1 720.5ZM1712.9 726.6L1721.7 725.3L1724.9 725.1L1725.7 730.6L1726.5 739.7L1730.6 747.2L1726.9 752.1L1730.3 757.1L1732.5 763.4L1740.8 761.4L1743.8 758.4L1754.1 758.9L1758 766.6L1761.4 764.8L1770.1 768.7L1769.7 770.8L1770 776.2L1771.6 786L1763.8 782L1758.8 785.6L1752 783.5L1746.4 785L1738.6 784.6L1730.3 784.1L1726.7 785.3L1717.9 786L1716.7 779.6L1713.8 774L1713.8 770.3L1717.8 762.8L1719 755.4L1714 747.7L1713.9 745L1714.7 734.5L1713.3 727.9ZM1727.3 741.5L1732.7 739.5L1739.1 736.6L1742.4 742.3L1744 751.9L1742.7 757.2L1739 763.1L1737.4 760.9L1732.8 759.7L1726.3 752.8L1729.5 749ZM1759.5 756.1L1764.4 757.5L1768.9 754.7L1774.7 759.3L1772.6 761.2L1774.9 771.6L1776.1 772.4L1770 774.4L1766 773.1L1758.9 767.3L1758.3 757.1ZM1785.7 748.7L1792.3 746L1798.1 746.4L1800 751.4L1804.2 754.6L1812 759.1L1819.6 756.9L1827.7 760.1L1830.2 761.5L1834.3 767L1838.2 771.6L1836.6 781.4L1836.3 784.7L1830.6 783L1824.5 786.5L1813.8 783.5L1809 783.8L1803.5 783.1L1797.5 786.4L1792.5 786.2L1782.3 785.6L1779.2 784.5L1780.4 776.6L1782.7 770.1L1783.3 764L1784.7 756.5L1784.8 754ZM1801.8 719.4L1807.1 715.5L1812.7 710.2L1816.2 705.3L1822.6 708.2L1824.2 709.3L1825.9 714.7L1829.8 719.3L1827 725.4L1826.8 734.1L1827.1 738.6L1829 745.9L1826.4 752.6L1825.4 756L1818 760.5L1811.6 757.2L1806 753.6L1802.8 746.7L1805.2 742.3L1801.7 733.7L1801.2 726.8L1801.6 719.5ZM1811.9 693.2L1818.6 695.7L1824.3 695.4L1820.1 703.7L1814.2 703.7L1815.3 696.6ZM1741.1 674.8L1748.3 674.6L1749.8 682.6L1745.9 683.8L1742.5 682.6L1739.3 680.5Z" fill="none" stroke="#0a0a0a" stroke-width="1.9" stroke-linejoin="miter"/>
<path d="M1503.2 398.3L1509.1 400.6L1512.6 406.9L1512.4 415.2L1513.7 422.9L1514.5 428.2L1515.8 434.6L1514.9 439.6L1509.3 437.5L1508.2 430.4L1510 422.5L1509.9 416L1507.6 409.1L1504.3 401.9Z" fill="#fff" opacity="0.92"/>
<path d="M1508.8 399.1L1515.2 399.2L1517.3 405L1515.3 413.2L1514.7 420.9L1513.1 426.2L1511.9 432.4L1511.3 439.7L1508.1 447.5L1505.7 454.2L1508 447.2L1508.7 440.8L1508.5 433.6L1507.8 426.1L1507 418.9L1510.2 412.9L1508.8 407Z" fill="#fff" opacity="0.92"/>
<path d="M1506.9 479.8L1513.1 478.2L1519.7 480.6L1521.7 488.2L1525.3 495.2L1523.9 499.9L1521.2 499.5L1518.9 493.7L1513.5 488.8L1508.2 483.5Z" fill="#fff" opacity="0.92"/>
<path d="M1791.2 721.7L1797.1 719.4L1802.4 721.3L1801.2 729.6L1801.7 737.4L1800.6 740.1L1796.5 734.1L1794.7 728.2Z" fill="#fff" opacity="0.92"/>
<path d="M1773.6 765.8L1779.5 763.8L1782.6 769.5L1781.9 777.8L1782.8 785.5L1775.8 784.1L1775 777.3L1775.4 770.8Z" fill="#fff" opacity="0.92"/>
<path d="M1709.3 707.8L1715.3 709.9L1719.7 715.3L1718.9 723.2L1712.4 723.9L1710.3 716.8L1710 709.2Z" fill="#fff" opacity="0.92"/>
<path d="M1533.4 688.9L1538.1 693.6L1543.7 699.2L1543.2 705L1537.4 703.2L1535.3 694.9Z" fill="#fff" opacity="0.92"/>
<path d="M1657.6 745.7L1660.9 749L1663 755.9L1658 753.9Z" fill="#fff" opacity="0.92"/>
<path d="M1720.6 745.7L1726.9 744.6L1729.3 750.9L1726.2 756.8L1721.9 754.2Z" fill="#fff" opacity="0.92"/>
<path d="M1605.9 735.6L1612 737.6L1615.8 743.1L1613 750.1L1606.8 752.8L1606.2 744.8L1606.6 737.2Z" fill="#fff" opacity="0.92"/>
<path d="M1750.8 349.1L1752.3 355.3L1748.7 359.8L1739.7 363.1L1739.5 366.9L1741 374.9L1738.4 381.4L1733.7 384.8L1730.5 387.5L1730.8 396.1L1724.8 397.6L1717.5 398.2L1712.1 403L1708.8 405.2L1702.6 406.7L1694.8 411.8L1691.7 416.2L1687.4 420.5L1688.7 427.7L1690.9 433.9L1691 441.4L1689.2 447.9L1687.9 454L1685.1 458.6L1681.6 459.8L1674.1 463.9L1670.2 466.9L1663 469.6L1661.1 475.9L1662.2 482.9L1661.5 488.5L1662.4 494.7L1666.2 502.6L1666.3 507.5L1665.6 512.7L1668.8 522.4L1672.1 525.6L1673.9 532L1671 539.5L1674 543.9L1680.3 549.3L1684.1 549.2M1650 454.2L1646.5 459.6L1650.8 467L1652.2 473.3M1777.3 393.5L1778.1 398.1M1786.3 393L1789.9 397M1776 439.4L1780.3 445M1727 494.7L1731.1 499.2L1735.9 503.5L1739.1 510.4M1673.8 484.3L1674.3 492.4M1684.4 495.7L1682 499.5M1616.8 498.7L1617.7 505M1626.6 504.8L1628.1 512.2M1612.1 349.6L1611.3 354.7M1721.2 593.6L1721.8 600.1M1603.6 39.7L1608 42L1610.8 48L1611.5 56.4L1617.4 61.3M1761.7 29L1762.7 36M1640.1 111.5L1641.6 118.2L1644.5 123.1M1522.4 126.5L1527.2 128.8M1596.3 129.5L1597.9 135L1598.9 141.5M1626.3 171L1626.1 177.1M1648.3 208.6L1653.6 215.2M1747.7 213.4L1749.3 219.9M1605.4 249L1606.5 255L1610 261.6M1608.1 346.5L1612.1 354.4M1489.4 267L1492.2 271M1778 392.8L1782.8 397.7M1774.4 436.4L1778.6 442.6M1542.7 445.1L1546.3 453L1549.8 455.8M1581.9 474.3L1585.2 479.1L1586.3 484.1M1621.6 492.1L1625 495.6L1627.8 504M1726.5 493.7L1728.2 496.9L1733.2 504.5L1738 508M1720.7 588L1722.7 596.3L1725.7 602.6M1681.3 655.1L1680.1 651L1679.9 644.1L1683 637.4L1687.8 635.3L1694.2 633.6L1700.2 634.1L1702.4 634.8L1707.7 638.5L1709.8 645.6L1709.8 651.1L1706.4 658.9L1704.7 664.1L1699.1 671.2L1694.1 673M1541.3 443.3L1543.3 449M1548 440.6L1548.4 449.3M1583.5 474.8M1618.8 499.6L1622.3 506.1M1540.7 513.5L1543.8 516.9M1562.1 513.4L1564.3 518.1M1577 521.2L1580.3 527" fill="none" stroke="#0a0a0a" stroke-width="2.6" stroke-linejoin="round" stroke-linecap="round"/>
<path d="M1398 29.5H1840M1398 786.6H1840" stroke="#3a8be6" stroke-width="3" fill="none"/>
</g>
<g filter="url(#tgray)"><path d="M1406.4 1110.8H1902.7V1362H1406.4ZM1391.4 1362H1888.4V1610.3H1391.4Z" fill="#8c8c8c"/></g>
<g filter="url(#soft3)">
<path d="M1351 1366.5H1406M1888 1366.5H1944.5" stroke="#555" stroke-width="2.6" fill="none"/>
<path d="M1409 1118H1900M1393 1603H1886M1885.5 1113V1360M1403 1364V1608" stroke="#c8977c" stroke-width="1.8" stroke-dasharray="3 2" opacity="0.7" fill="none"/>
<path d="M1406.8 1038V1361M1902.9 1038V1361M1391.2 1361V1684.3M1888.4 1361V1684.3" stroke="#2c80e0" stroke-width="2.4" fill="none"/>
<path d="M1326 1110.8H1969.5M1326 1610.3H1969.5M1331 1361.8H1406M1888 1361.8H1964" stroke="#338ae8" stroke-width="2.2" fill="none"/>
<path d="M1407 1364.3L1410 1362.5L1414 1359.1L1419.4 1357.7L1423.5 1357.8L1429.2 1358.2L1433.1 1359.5L1438 1361L1443.3 1362.9L1447.3 1363.8L1451.8 1364L1457.4 1361.1L1461.4 1359.1L1466.1 1358.2L1471.2 1356.6L1475.1 1355L1481.5 1353L1485.6 1354.6L1488.7 1356.1L1493.3 1357.6L1499.1 1355L1503.8 1355.1L1508.8 1352.4L1514.2 1350.5L1518.7 1350.6L1523.1 1350.4L1527.2 1351.2L1531.5 1354.4L1536.6 1356L1541.6 1356.6L1545.7 1356.6L1550.4 1358.5L1555 1358.5L1561.5 1357.5L1564.8 1356.7L1571.1 1355.5L1575.3 1355.1L1581.1 1357.5L1585.9 1359.1L1589.9 1359.5L1594.3 1362.8L1599.6 1360.9L1602.9 1359.6L1609.6 1358.2L1613.3 1357.5L1619.2 1356.2L1622.9 1356.8L1627.5 1355.2L1632 1358.7L1637 1359.7L1642 1362.6L1647.2 1363.7L1651.4 1363.4L1656.8 1361.2L1661 1359.8L1664.9 1358.2L1669.5 1357.2L1674.2 1355.3L1679.1 1355.8L1685.1 1358.9L1689.2 1361.6L1692.6 1364.2L1697.6 1364L1702.6 1363L1708 1360.6L1712.9 1359.6L1716.6 1359.2L1722.7 1358L1726.4 1356.9L1731.9 1358.3L1736.3 1360.5L1740.2 1362.3L1745.3 1364.1L1749.5 1363.6L1755.1 1362.3L1759.7 1361.5L1764.5 1359.8L1768.1 1359.8L1773.2 1359.7L1779.5 1359.5L1784.7 1361.1L1788.6 1363L1792.1 1363.9L1797.9 1367.3L1802.4 1368.4L1806.6 1366.1L1812.9 1364.9L1816.9 1365L1822.7 1363.4L1827.2 1362.9L1831.7 1363.5L1837.4 1361.8L1842.2 1361.4L1846.5 1362.4L1852.3 1359.8L1855.4 1358.5L1861.8 1357.3L1866.6 1358.8L1871.4 1360.6L1875.8 1362L1880.4 1363.3L1884.2 1364.6" fill="none" stroke="#111" stroke-width="2.9" stroke-linejoin="round"/>
<path d="M1427.9 1353.5L1449.3 1360.3M1520.8 1349.9L1542.3 1357.1M1628.1 1355.3L1649.5 1362.4M1678.1 1353.5L1696 1360.7M1721 1351.7L1738.9 1357.1M1774.6 1355.3L1799.7 1364.2M1821.1 1360.7L1842.6 1364.2M1592.3 1356L1606.6 1361.4" fill="none" stroke="#f4f4f4" stroke-width="3" stroke-linecap="round"/>
<path d="M1482.7 1374.9L1478.8 1372.7L1477.6 1369.3L1476.1 1366L1473.2 1363.1M1485.4 1365.2L1488.7 1362.6L1493.6 1362L1494.2 1358.5L1494 1355L1496.6 1352.1M1486.1 1377.5L1484.6 1374.1L1485.1 1370.7M1478.2 1375.8L1479.2 1372.3L1480.4 1368.9L1484.5 1366.9L1488.8 1368.6L1492.8 1370.7M1490.3 1370.3L1494.9 1368.9L1499 1366.9L1503.4 1368.5L1503.4 1372M1481.5 1369L1476.9 1367.6L1471.9 1367.7L1467.7 1365.8L1465.4 1362.7M1511.4 1363.5L1511.3 1360L1512.4 1356.5L1517.1 1355.3M1508.2 1365.7L1503.8 1364L1501.7 1360.8M1492.4 1370L1494 1373.3L1493.6 1376.8L1497.6 1378.8L1502.5 1378M1507.9 1362.1L1503.1 1361.1L1499.6 1358.6L1502 1355.5L1505.3 1352.9L1507.5 1349.8M1484 1365.6L1489 1365.6L1492 1368.4L1496.9 1369.2M1496.3 1377.7L1496.2 1374.2L1498.1 1371L1501.2 1368.2L1506 1367.2L1510.2 1365.2M1508.5 1377.7L1513.3 1376.6L1518.2 1375.9L1522.8 1374.7M1479.9 1375.5L1480 1372L1478.9 1368.6L1481.8 1365.7M1492.7 1352.2L1487.8 1351.7L1485.4 1354.8L1486.5 1358.2L1490.9 1359.9M1498.8 1375.2L1494.8 1373.1L1496 1369.7L1492.2 1367.5L1492.6 1364M1494.1 1372.4L1497.8 1374.8L1500.1 1377.8L1504.1 1380L1508.6 1378.5M1483.6 1366.3L1484.3 1369.8L1487.3 1372.5L1488 1376L1488.7 1379.4M1482 1360.5L1482.2 1364L1485.4 1366.7L1485.8 1370.2M1512.8 1378L1510.8 1381.2L1510 1384.7M1479.2 1377.9L1474.3 1378.7L1471.4 1381.5L1466.6 1380.5L1464.1 1377.5L1461.9 1374.4M1485.9 1369.5L1481 1370.4L1476.5 1371.9L1471.6 1371.2L1468.1 1373.7M1485.5 1353.4L1490.5 1353.2L1492.8 1356.4M1504.5 1363.3L1503.6 1366.8L1499.2 1368.4M1499 1358L1499.5 1354.5L1503.8 1352.7L1507.6 1355L1509.2 1358.3L1510.8 1361.7M1491.4 1361.4L1491.6 1364.9L1491.9 1368.4L1487.5 1370.1L1484 1372.6L1480.4 1375M1478.5 1368.6L1480 1371.9L1484.4 1373.6L1489.4 1373.7L1490.6 1377.1M1505.9 1361.2L1502.9 1364L1498 1363.3M1490.2 1375.8L1491.7 1372.5L1493.5 1369.2L1490.1 1366.6L1485.5 1367.9L1484.3 1371.3M1483.9 1366.6L1482 1369.8L1477.3 1370.9L1473.3 1373L1470.9 1376.1M1576.1 1376.1L1581.1 1376.1L1584.4 1373.5M1569.8 1374.3L1568.4 1377.7L1566 1380.7L1567.9 1384M1553.6 1365.2L1553.3 1361.8L1552.3 1358.3L1548.7 1355.9L1544.2 1357.4M1536.3 1366.6L1535.1 1370.1L1530.4 1371.2L1528.7 1374.5L1531 1377.6L1535.6 1378.9M1542.7 1360.9L1541.6 1357.5L1542.8 1354.1L1540.1 1351.2L1542.2 1348M1569.3 1371.9L1574.2 1372.5L1579.1 1371.8L1581.7 1374.8L1578.6 1377.5M1542 1372.3L1542.9 1368.9L1540.7 1365.8L1536.3 1364L1532 1362.3L1527.8 1360.4M1569.3 1370.5L1565.4 1372.7L1560.4 1373L1555.4 1372.8L1550.4 1373L1545.7 1371.7M1575.5 1373.5L1580.2 1372.4L1584.8 1371.1L1588 1368.4L1592.9 1368M1570.8 1368.6L1566.2 1370.1L1564.5 1373.3L1562.5 1376.6L1557.5 1376.7L1552.7 1375.8M1538.3 1373.6L1542.9 1372.2L1543.5 1368.7L1545 1365.4M1537.2 1369.1L1538.4 1365.7L1535.1 1363.1M1546.5 1373.7L1550.8 1371.9L1555.8 1371.9M1536.5 1364.6L1541.5 1364.6L1543.4 1367.8M1536.2 1371.9L1539.5 1369.3L1544.3 1370.3L1547.4 1373L1550.2 1375.9M1535.2 1369.1L1532.2 1366.3L1527.4 1367.2L1523.5 1369.4M1592 1355.5L1587.6 1357.2L1587.8 1360.7L1592.6 1361.6L1594.8 1364.7L1599.1 1366.4M1591.9 1362.8L1587.4 1364.3L1582.9 1362.7L1578.1 1363.5L1575.9 1366.6L1570.9 1366.7M1596.3 1347L1600 1344.7L1604.4 1343L1607.1 1340.1M1586 1360.7L1581.4 1359.4L1580.9 1355.9L1579.2 1352.6L1581.2 1349.4L1582.5 1346.1M1611.9 1360.9L1616 1362.9L1621 1362.8L1625.6 1364.2M1607.4 1360.5L1602.7 1361.6L1597.8 1362.3L1593.3 1363.9L1591.3 1367.1L1591.3 1370.6M1611.3 1347.2L1608.1 1349.9L1606.9 1353.3L1605.1 1356.6M1601.5 1348.5L1596.9 1347L1593.2 1349.3L1588.3 1348.6L1587.8 1345.2M1800.9 1365.4L1801.7 1368.9L1806.6 1369.5L1811.4 1370.5M1802.9 1378.1L1807.7 1377.4L1810.2 1374.3L1807.7 1371.3L1803 1370.2M1825.7 1375.8L1823.5 1372.6L1819.5 1370.6L1816.6 1367.7L1816.6 1364.2M1823.1 1376.5L1825.8 1379.5L1828.5 1382.4L1833.4 1383L1838.4 1383.4M1795.7 1377.3L1793.1 1374.3L1788.6 1372.7L1785.9 1369.8L1781.6 1368.1M1819.9 1366.7L1815.9 1368.9L1815.8 1372.4L1818.1 1375.5L1816.4 1378.8M1794.1 1364.6L1790.7 1362L1789 1358.7L1789.9 1355.3L1786.5 1352.7M1816.6 1364.9L1818.7 1361.7L1819.1 1358.2L1822.3 1355.6L1823.5 1352.2L1825.5 1349M1824.8 1365.4L1829.7 1364.7L1834.7 1364.8L1837.6 1367.7M1796.9 1377.3L1800.9 1379.4L1802.9 1382.6M1824.5 1377.6L1819.7 1376.8L1814.9 1378L1811.8 1375.3L1811.9 1371.8M1807.2 1377.4L1802.3 1376.7L1798.1 1378.6M1878.5 1372.1L1883.1 1370.7L1887.8 1371.8M1869.8 1358.5L1872.9 1361.3L1877.7 1362.1L1882.4 1363.4L1886.7 1365.2M1864.3 1361.8L1867.5 1364.4L1867.2 1367.9L1871 1370.2L1873.7 1373.2L1878.7 1373.3M1864.1 1374.6L1860 1376.7L1859.7 1380.2L1863.2 1382.6M1871.3 1361.4L1871.1 1357.9L1875.7 1356.6L1877.6 1353.4M1886.4 1365L1890.2 1362.7L1889.7 1359.2L1885.1 1358L1880.1 1358.5L1875.1 1358.2M1864.1 1370.8L1863.2 1374.3L1864.8 1377.6L1863.9 1381L1866.9 1383.9M1875 1361L1870.3 1362.2L1866.6 1364.6M1873.4 1368.3L1868.6 1369.4L1868.7 1372.9L1873.3 1374.2L1877.9 1372.6L1881.6 1375M1868.6 1372.4L1871.9 1369.7L1873.6 1366.4L1875.5 1363.2L1880.1 1361.7L1880.6 1358.2M1881.4 1373.2L1883.9 1370.1L1888.8 1370.8M1868.9 1367.6L1867.4 1370.9L1862.5 1371.6L1857.5 1371.8M1669.4 1366.6L1668 1370L1671.1 1372.8L1673.1 1376L1669.6 1378.5M1667.9 1362.1L1670.9 1364.9L1671.2 1368.4L1672.5 1371.8L1673.4 1375.3L1671.9 1378.6M1654.3 1364.2L1657.8 1361.7L1662.2 1360L1662.1 1356.5L1661 1353.1M1674.3 1362.5L1670.5 1364.8L1671.5 1368.2L1675.6 1370.2L1678.6 1373M1737.6 1350.5L1738.7 1347L1734.9 1344.7M1739.5 1360L1741.4 1363.2L1746.4 1363.4M1736 1353.9L1740.9 1354.1L1745.5 1355.5M1415.7 1367.8L1420.4 1366.8L1423.4 1364M1435 1359.8L1431.7 1357.1L1427.5 1355.2L1423.9 1352.8L1425 1349.4L1424.9 1345.9M1422.1 1365.6L1420.3 1362.4L1423.5 1359.7L1428.3 1358.7L1433.2 1359.2L1436.3 1356.4" fill="none" stroke="#0c0c0c" stroke-width="2.1" stroke-linejoin="round" stroke-linecap="round"/>
<path d="M1556.6 1379L1574.4 1387.9L1581.6 1390.4M1586.9 1393.3L1603 1404" fill="none" stroke="#111" stroke-width="2" stroke-linecap="round"/>
</g>
</svg>
</body></html>
